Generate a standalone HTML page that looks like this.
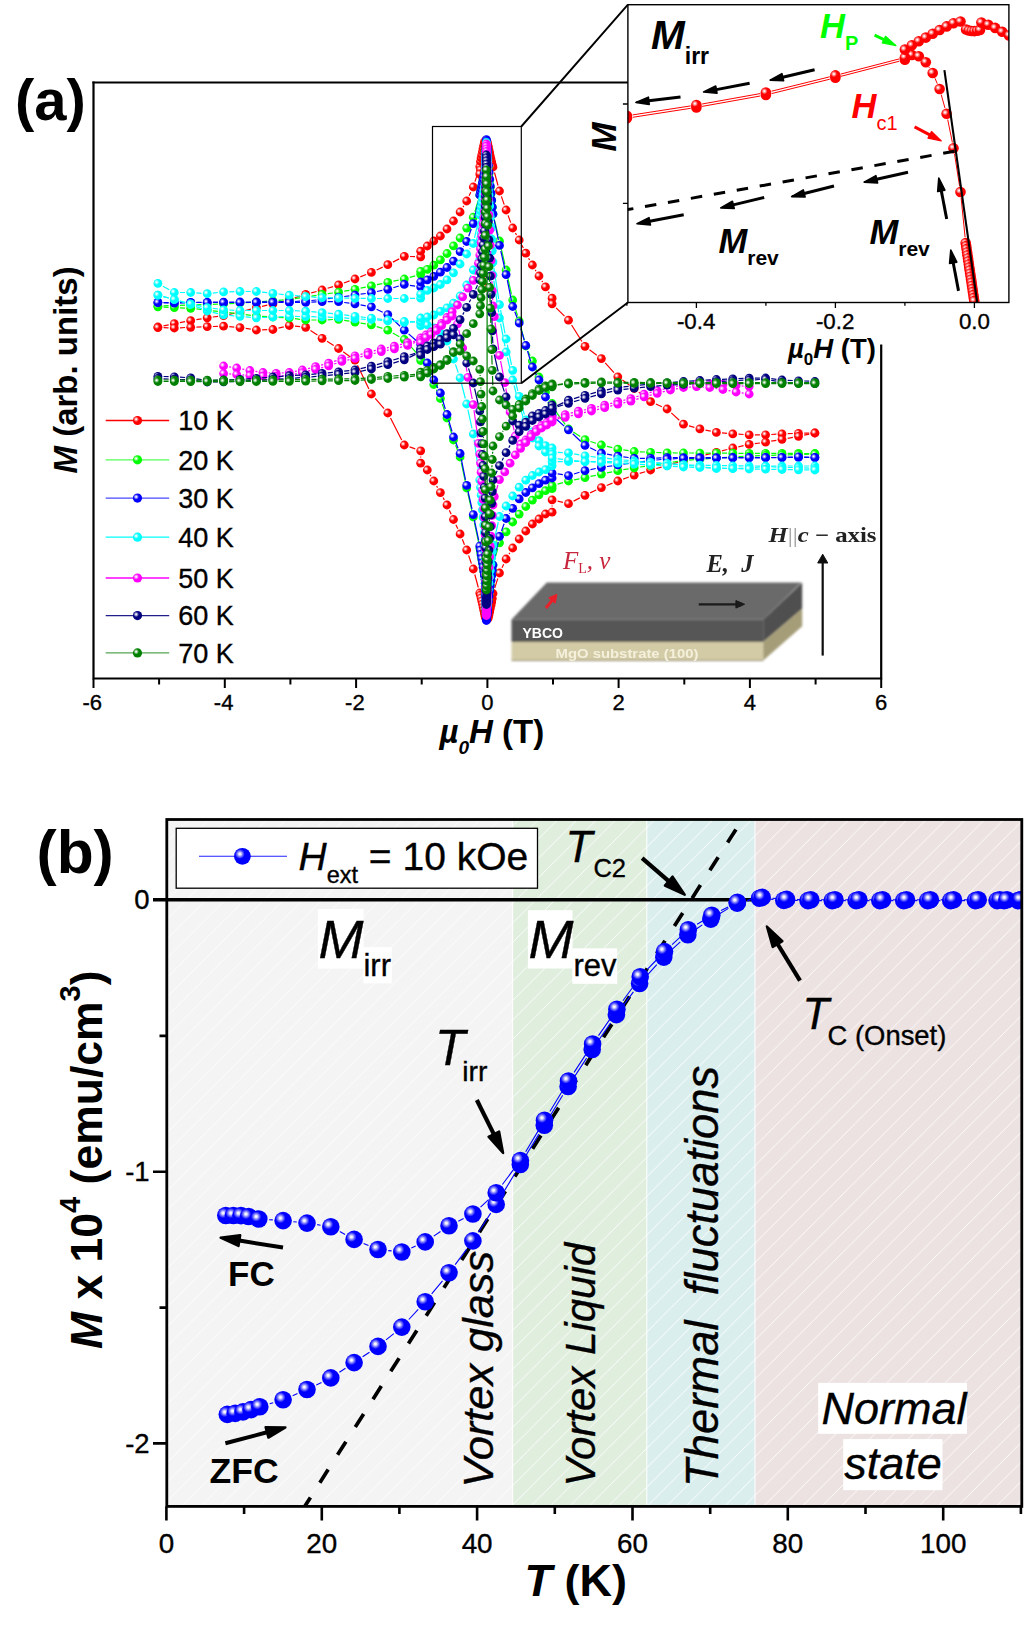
<!DOCTYPE html><html><head><meta charset="utf-8"><title>Magnetization of YBCO thin film</title><style>html,body{margin:0;padding:0;background:#fff}svg{display:block}text{font-family:"Liberation Sans",Arial,sans-serif}.r{stroke:#000;stroke-width:.35px}</style></head><body><svg width="1025" height="1629" viewBox="0 0 1025 1629"><defs><radialGradient id="g_red" cx="0.355" cy="0.365" r="0.3"><stop offset="0" stop-color="#fff"/><stop offset="0.18" stop-color="#ffeded"/><stop offset="0.55" stop-color="#ff7f7f"/><stop offset="1" stop-color="#ff0000"/></radialGradient><radialGradient id="g_green" cx="0.355" cy="0.365" r="0.3"><stop offset="0" stop-color="#fff"/><stop offset="0.18" stop-color="#edffed"/><stop offset="0.55" stop-color="#7fff7f"/><stop offset="1" stop-color="#00ff00"/></radialGradient><radialGradient id="g_blue" cx="0.355" cy="0.365" r="0.3"><stop offset="0" stop-color="#fff"/><stop offset="0.18" stop-color="#ededff"/><stop offset="0.55" stop-color="#7f7fff"/><stop offset="1" stop-color="#0000ff"/></radialGradient><radialGradient id="g_cyan" cx="0.355" cy="0.365" r="0.3"><stop offset="0" stop-color="#fff"/><stop offset="0.18" stop-color="#edffff"/><stop offset="0.55" stop-color="#7fffff"/><stop offset="1" stop-color="#00ffff"/></radialGradient><radialGradient id="g_magenta" cx="0.355" cy="0.365" r="0.3"><stop offset="0" stop-color="#fff"/><stop offset="0.18" stop-color="#ffedff"/><stop offset="0.55" stop-color="#ff7fff"/><stop offset="1" stop-color="#ff00ff"/></radialGradient><radialGradient id="g_navy" cx="0.355" cy="0.365" r="0.3"><stop offset="0" stop-color="#fff"/><stop offset="0.18" stop-color="#ededf6"/><stop offset="0.55" stop-color="#7f7fbf"/><stop offset="1" stop-color="#000080"/></radialGradient><radialGradient id="g_dkgreen" cx="0.355" cy="0.365" r="0.3"><stop offset="0" stop-color="#fff"/><stop offset="0.18" stop-color="#edf6ed"/><stop offset="0.55" stop-color="#7fbf7f"/><stop offset="1" stop-color="#008000"/></radialGradient><radialGradient id="gb_blue" cx="0.35" cy="0.36" r="0.29"><stop offset="0" stop-color="#fff"/><stop offset="0.2" stop-color="#f0f0ff"/><stop offset="0.6" stop-color="#7070ff"/><stop offset="1" stop-color="#0000ff"/></radialGradient><pattern id="h_gray" width="19.4" height="19.4" patternUnits="userSpaceOnUse"><rect width="19.4" height="19.4" fill="#f4f4f4"/><path d="M-1 20.4L20.4 -1M-1 1L1 -1M18.4 20.4L20.4 18.4" stroke="#fff" stroke-opacity="0.95" stroke-width="0.9"/></pattern><pattern id="h_green" width="19.4" height="19.4" patternUnits="userSpaceOnUse"><rect width="19.4" height="19.4" fill="#e0eede"/><path d="M-1 20.4L20.4 -1M-1 1L1 -1M18.4 20.4L20.4 18.4" stroke="#fff" stroke-opacity="0.95" stroke-width="0.9"/></pattern><pattern id="h_cyan" width="19.4" height="19.4" patternUnits="userSpaceOnUse"><rect width="19.4" height="19.4" fill="#dbeeee"/><path d="M-1 20.4L20.4 -1M-1 1L1 -1M18.4 20.4L20.4 18.4" stroke="#fff" stroke-opacity="0.95" stroke-width="0.9"/></pattern><pattern id="h_pink" width="19.4" height="19.4" patternUnits="userSpaceOnUse"><rect width="19.4" height="19.4" fill="#ece2e1"/><path d="M-1 20.4L20.4 -1M-1 1L1 -1M18.4 20.4L20.4 18.4" stroke="#fff" stroke-opacity="0.95" stroke-width="0.9"/></pattern><filter id="blur1" x="-5%" y="-5%" width="110%" height="110%"><feGaussianBlur stdDeviation="0.9"/></filter><filter id="blur2" x="-5%" y="-20%" width="110%" height="140%"><feGaussianBlur stdDeviation="0.7"/></filter></defs><rect width="1025" height="1629" fill="#fff"/><g id="panel-a"><path d="M163.5 325.9L168.7 324.8M179.9 322.7L185.1 321.7M196.4 319.7L201.6 318.8M212.8 317L218 316.4M229.2 314.4L234.5 313.2M245.5 310.5L250.9 309.1M262 306.3L267.3 305.2M278.4 302.4L283.8 301M294.7 297.8L300.3 296.1M311.2 292.9L316.6 291.5M327.6 288.3L333.1 286.6M343.9 283L349.6 280.9M360.3 276.9L366.1 274.5M376.6 270L382.7 267.1M392.9 262.1L399.2 258.9M410 256.5L415 256.6M463 207.1L463.8 205.9M469.1 195.8L470.8 192.2M475 181.6L478.1 171.9M494.5 172.5L498 185.5M501.4 196.4L504.2 204.6M508.1 215.4L510.7 222.6M515.4 233L516.5 235M521.8 245.1L523.3 248.1M528.6 258.2L529.6 260M535.3 269.9L536 271.1M541.9 280.9L542.6 282M548.4 291.8L549.2 293.3M556.1 307.8L564.5 316.2M571.6 325L581.9 341.5M589.5 349.7L596.8 355.2M605.2 362.8L614 372.6M622.4 380.1L629.6 385.2M638.7 392.1L646.2 398.1M655.9 404L661.9 406.7M671.3 412.9L679.3 420.3M689 425.8L694.4 427.3M705.5 430.1L710.8 431.2M722 432.9L727.1 433.4M738.5 434.2L743.5 434.5M754.9 434.8L759.9 434.8M771.3 434.5L776.4 434.2M787.7 433.7L792.8 433.5M804.2 433.2L809.2 433.1" stroke="#ff0000" stroke-width="1.2" fill="none"/><path d="M163.6 327.7L168.6 327.9M180 327.8L185.1 327.5M196.4 327.1L201.5 326.8M212.9 326.5L217.9 326.3M229.3 326.7L234.3 327.1M245.7 328.4L250.8 329.2M262.1 329.8L267.2 329.7M278.4 328.2L283.8 326.8M295 326.1L300.1 326.7M310.5 330.5L317.4 335.1M327 341.3L333.7 345.5M343.2 351.8L350.4 356.9M357.5 365.3L368.9 388.9M375.2 398.3L384.1 408.7M390.5 418.1L401.7 439.9M409.6 446.9L415.3 448.9M420.7 456.5L420.7 457.5M430.2 474.9L430.9 476.1M436.6 486L437.6 487.6M443.1 497.6L444.3 500M449.3 510.2L451.2 514.3M455.9 524.7L457.8 528.8M462.3 539.3L464.5 544.7M468.6 555.4L471.4 563.6M474.8 574.5L478.3 587.5M494.7 588.1L497.8 578.4M502 567.8L503.7 564.2M509 554.1L509.8 552.9M552.1 506.5L552.1 505.5M557.6 501.1L563 502.4M573.6 501.1L579.9 497.9M590.1 492.9L596.2 490M606.7 485.5L612.5 483.1M623.2 479.1L628.9 477M639.7 473.4L645.2 471.7M656.2 468.5L661.6 467.1M672.5 463.9L678.1 462.2M689 459L694.4 457.6M705.5 454.8L710.8 453.7M721.9 450.9L727.3 449.5M738.3 446.8L743.6 445.6M754.8 443.6L760 443M771.2 441.2L776.4 440.3M787.7 438.3L792.9 437.3M804.1 435.2L809.3 434.1" stroke="#ff0000" stroke-width="1.2" fill="none"/><path d="M485 281.7L484.5 255.7M484.3 244.3L483.9 226.2M483.6 214.8L483.3 204.8M482.8 193.4L482.7 191" stroke="#ff0000" stroke-width="1.2" fill="none"/><circle cx="157.9" cy="327" r="4.4" fill="url(#g_red)"/><circle cx="174.3" cy="323.7" r="4.4" fill="url(#g_red)"/><circle cx="190.7" cy="320.7" r="4.4" fill="url(#g_red)"/><circle cx="207.2" cy="317.8" r="4.4" fill="url(#g_red)"/><circle cx="223.6" cy="315.6" r="4.4" fill="url(#g_red)"/><circle cx="240" cy="312" r="4.4" fill="url(#g_red)"/><circle cx="256.4" cy="307.6" r="4.4" fill="url(#g_red)"/><circle cx="272.9" cy="303.9" r="4.4" fill="url(#g_red)"/><circle cx="289.3" cy="299.5" r="4.4" fill="url(#g_red)"/><circle cx="305.7" cy="294.4" r="4.4" fill="url(#g_red)"/><circle cx="322.1" cy="290" r="4.4" fill="url(#g_red)"/><circle cx="338.6" cy="284.9" r="4.4" fill="url(#g_red)"/><circle cx="355" cy="279" r="4.4" fill="url(#g_red)"/><circle cx="371.4" cy="272.4" r="4.4" fill="url(#g_red)"/><circle cx="387.8" cy="264.7" r="4.4" fill="url(#g_red)"/><circle cx="404.3" cy="256.3" r="4.4" fill="url(#g_red)"/><circle cx="420.7" cy="256.8" r="4.4" fill="url(#g_red)"/><circle cx="420.7" cy="251.2" r="4.4" fill="url(#g_red)"/><circle cx="427.3" cy="246" r="4.4" fill="url(#g_red)"/><circle cx="433.8" cy="241" r="4.4" fill="url(#g_red)"/><circle cx="440.4" cy="236" r="4.4" fill="url(#g_red)"/><circle cx="447" cy="229" r="4.4" fill="url(#g_red)"/><circle cx="453.5" cy="221" r="4.4" fill="url(#g_red)"/><circle cx="460.1" cy="212" r="4.4" fill="url(#g_red)"/><circle cx="466.7" cy="201" r="4.4" fill="url(#g_red)"/><circle cx="473.3" cy="187" r="4.4" fill="url(#g_red)"/><circle cx="479.8" cy="166.5" r="4.4" fill="url(#g_red)"/><circle cx="480.5" cy="161.5" r="4.4" fill="url(#g_red)"/><circle cx="481.1" cy="157.9" r="4.4" fill="url(#g_red)"/><circle cx="481.8" cy="154.8" r="4.4" fill="url(#g_red)"/><circle cx="482.5" cy="151.5" r="4.4" fill="url(#g_red)"/><circle cx="483.1" cy="148.3" r="4.4" fill="url(#g_red)"/><circle cx="483.8" cy="145.2" r="4.4" fill="url(#g_red)"/><circle cx="484.4" cy="142.4" r="4.4" fill="url(#g_red)"/><circle cx="485.1" cy="141" r="4.4" fill="url(#g_red)"/><circle cx="485.6" cy="147.8" r="4.4" fill="url(#g_red)"/><circle cx="485.9" cy="148.6" r="4.4" fill="url(#g_red)"/><circle cx="486.1" cy="149" r="4.4" fill="url(#g_red)"/><circle cx="486.4" cy="149.1" r="4.4" fill="url(#g_red)"/><circle cx="486.7" cy="148.9" r="4.4" fill="url(#g_red)"/><circle cx="486.9" cy="148.2" r="4.4" fill="url(#g_red)"/><circle cx="487.1" cy="141.8" r="4.4" fill="url(#g_red)"/><circle cx="487.7" cy="143.7" r="4.4" fill="url(#g_red)"/><circle cx="488.4" cy="146.5" r="4.4" fill="url(#g_red)"/><circle cx="489" cy="149.8" r="4.4" fill="url(#g_red)"/><circle cx="489.7" cy="152.9" r="4.4" fill="url(#g_red)"/><circle cx="490.3" cy="156" r="4.4" fill="url(#g_red)"/><circle cx="491" cy="159" r="4.4" fill="url(#g_red)"/><circle cx="491.7" cy="162" r="4.4" fill="url(#g_red)"/><circle cx="492.3" cy="164.8" r="4.4" fill="url(#g_red)"/><circle cx="493" cy="167" r="4.4" fill="url(#g_red)"/><circle cx="499.5" cy="191" r="4.4" fill="url(#g_red)"/><circle cx="506.1" cy="210" r="4.4" fill="url(#g_red)"/><circle cx="512.7" cy="228" r="4.4" fill="url(#g_red)"/><circle cx="519.2" cy="240" r="4.4" fill="url(#g_red)"/><circle cx="525.8" cy="253.2" r="4.4" fill="url(#g_red)"/><circle cx="532.4" cy="265" r="4.4" fill="url(#g_red)"/><circle cx="539" cy="276" r="4.4" fill="url(#g_red)"/><circle cx="545.5" cy="286.9" r="4.4" fill="url(#g_red)"/><circle cx="552.1" cy="298.2" r="4.4" fill="url(#g_red)"/><circle cx="552.1" cy="303.8" r="4.4" fill="url(#g_red)"/><circle cx="568.5" cy="320.2" r="4.4" fill="url(#g_red)"/><circle cx="585" cy="346.3" r="4.4" fill="url(#g_red)"/><circle cx="601.4" cy="358.6" r="4.4" fill="url(#g_red)"/><circle cx="617.8" cy="376.8" r="4.4" fill="url(#g_red)"/><circle cx="634.2" cy="388.5" r="4.4" fill="url(#g_red)"/><circle cx="650.6" cy="401.7" r="4.4" fill="url(#g_red)"/><circle cx="667.1" cy="409" r="4.4" fill="url(#g_red)"/><circle cx="683.5" cy="424.2" r="4.4" fill="url(#g_red)"/><circle cx="699.9" cy="428.9" r="4.4" fill="url(#g_red)"/><circle cx="716.4" cy="432.4" r="4.4" fill="url(#g_red)"/><circle cx="732.8" cy="433.9" r="4.4" fill="url(#g_red)"/><circle cx="749.2" cy="434.8" r="4.4" fill="url(#g_red)"/><circle cx="765.6" cy="434.8" r="4.4" fill="url(#g_red)"/><circle cx="782" cy="433.9" r="4.4" fill="url(#g_red)"/><circle cx="798.5" cy="433.3" r="4.4" fill="url(#g_red)"/><circle cx="814.9" cy="433" r="4.4" fill="url(#g_red)"/><circle cx="157.9" cy="327.6" r="4.4" fill="url(#g_red)"/><circle cx="174.3" cy="328" r="4.4" fill="url(#g_red)"/><circle cx="190.7" cy="327.3" r="4.4" fill="url(#g_red)"/><circle cx="207.2" cy="326.6" r="4.4" fill="url(#g_red)"/><circle cx="223.6" cy="326.2" r="4.4" fill="url(#g_red)"/><circle cx="240" cy="327.6" r="4.4" fill="url(#g_red)"/><circle cx="256.4" cy="330" r="4.4" fill="url(#g_red)"/><circle cx="272.9" cy="329.5" r="4.4" fill="url(#g_red)"/><circle cx="289.3" cy="325.5" r="4.4" fill="url(#g_red)"/><circle cx="305.7" cy="327.3" r="4.4" fill="url(#g_red)"/><circle cx="322.1" cy="338.3" r="4.4" fill="url(#g_red)"/><circle cx="338.6" cy="348.5" r="4.4" fill="url(#g_red)"/><circle cx="355" cy="360.2" r="4.4" fill="url(#g_red)"/><circle cx="371.4" cy="394" r="4.4" fill="url(#g_red)"/><circle cx="387.8" cy="413" r="4.4" fill="url(#g_red)"/><circle cx="404.3" cy="445" r="4.4" fill="url(#g_red)"/><circle cx="420.7" cy="450.8" r="4.4" fill="url(#g_red)"/><circle cx="420.7" cy="463.2" r="4.4" fill="url(#g_red)"/><circle cx="427.3" cy="470" r="4.4" fill="url(#g_red)"/><circle cx="433.8" cy="481" r="4.4" fill="url(#g_red)"/><circle cx="440.4" cy="492.6" r="4.4" fill="url(#g_red)"/><circle cx="447" cy="505" r="4.4" fill="url(#g_red)"/><circle cx="453.5" cy="519.5" r="4.4" fill="url(#g_red)"/><circle cx="460.1" cy="534" r="4.4" fill="url(#g_red)"/><circle cx="466.7" cy="550" r="4.4" fill="url(#g_red)"/><circle cx="473.3" cy="569" r="4.4" fill="url(#g_red)"/><circle cx="479.8" cy="593" r="4.4" fill="url(#g_red)"/><circle cx="480.5" cy="595.2" r="4.4" fill="url(#g_red)"/><circle cx="481.1" cy="598" r="4.4" fill="url(#g_red)"/><circle cx="481.8" cy="601" r="4.4" fill="url(#g_red)"/><circle cx="482.5" cy="604" r="4.4" fill="url(#g_red)"/><circle cx="483.1" cy="607.1" r="4.4" fill="url(#g_red)"/><circle cx="483.8" cy="610.2" r="4.4" fill="url(#g_red)"/><circle cx="484.4" cy="613.5" r="4.4" fill="url(#g_red)"/><circle cx="485.1" cy="616.3" r="4.4" fill="url(#g_red)"/><circle cx="485.7" cy="618.2" r="4.4" fill="url(#g_red)"/><circle cx="485.9" cy="611.8" r="4.4" fill="url(#g_red)"/><circle cx="486.1" cy="611.1" r="4.4" fill="url(#g_red)"/><circle cx="486.4" cy="610.9" r="4.4" fill="url(#g_red)"/><circle cx="486.7" cy="611" r="4.4" fill="url(#g_red)"/><circle cx="486.9" cy="611.4" r="4.4" fill="url(#g_red)"/><circle cx="487.2" cy="612.2" r="4.4" fill="url(#g_red)"/><circle cx="487.7" cy="619" r="4.4" fill="url(#g_red)"/><circle cx="488.4" cy="617.6" r="4.4" fill="url(#g_red)"/><circle cx="489" cy="614.8" r="4.4" fill="url(#g_red)"/><circle cx="489.7" cy="611.7" r="4.4" fill="url(#g_red)"/><circle cx="490.3" cy="608.5" r="4.4" fill="url(#g_red)"/><circle cx="491" cy="605.2" r="4.4" fill="url(#g_red)"/><circle cx="491.7" cy="602.1" r="4.4" fill="url(#g_red)"/><circle cx="492.3" cy="598.5" r="4.4" fill="url(#g_red)"/><circle cx="493" cy="593.5" r="4.4" fill="url(#g_red)"/><circle cx="499.5" cy="573" r="4.4" fill="url(#g_red)"/><circle cx="506.1" cy="559" r="4.4" fill="url(#g_red)"/><circle cx="512.7" cy="548" r="4.4" fill="url(#g_red)"/><circle cx="519.2" cy="539" r="4.4" fill="url(#g_red)"/><circle cx="525.8" cy="531" r="4.4" fill="url(#g_red)"/><circle cx="532.4" cy="524" r="4.4" fill="url(#g_red)"/><circle cx="539" cy="519" r="4.4" fill="url(#g_red)"/><circle cx="545.5" cy="514" r="4.4" fill="url(#g_red)"/><circle cx="552.1" cy="512.2" r="4.4" fill="url(#g_red)"/><circle cx="552.1" cy="499.8" r="4.4" fill="url(#g_red)"/><circle cx="568.5" cy="503.7" r="4.4" fill="url(#g_red)"/><circle cx="585" cy="495.3" r="4.4" fill="url(#g_red)"/><circle cx="601.4" cy="487.6" r="4.4" fill="url(#g_red)"/><circle cx="617.8" cy="481" r="4.4" fill="url(#g_red)"/><circle cx="634.2" cy="475.1" r="4.4" fill="url(#g_red)"/><circle cx="650.6" cy="470" r="4.4" fill="url(#g_red)"/><circle cx="667.1" cy="465.6" r="4.4" fill="url(#g_red)"/><circle cx="683.5" cy="460.5" r="4.4" fill="url(#g_red)"/><circle cx="699.9" cy="456.1" r="4.4" fill="url(#g_red)"/><circle cx="716.4" cy="452.4" r="4.4" fill="url(#g_red)"/><circle cx="732.8" cy="448" r="4.4" fill="url(#g_red)"/><circle cx="749.2" cy="444.4" r="4.4" fill="url(#g_red)"/><circle cx="765.6" cy="442.2" r="4.4" fill="url(#g_red)"/><circle cx="782" cy="439.3" r="4.4" fill="url(#g_red)"/><circle cx="798.5" cy="436.3" r="4.4" fill="url(#g_red)"/><circle cx="814.9" cy="433" r="4.4" fill="url(#g_red)"/><circle cx="485.1" cy="287.4" r="4.4" fill="url(#g_red)"/><circle cx="484.4" cy="250" r="4.4" fill="url(#g_red)"/><circle cx="483.8" cy="220.5" r="4.4" fill="url(#g_red)"/><circle cx="483.1" cy="199.1" r="4.4" fill="url(#g_red)"/><circle cx="482.5" cy="185.3" r="4.4" fill="url(#g_red)"/><circle cx="481.8" cy="176" r="4.4" fill="url(#g_red)"/><circle cx="481.1" cy="170.9" r="4.4" fill="url(#g_red)"/><circle cx="480.5" cy="169.8" r="4.4" fill="url(#g_red)"/><circle cx="479.8" cy="173.9" r="4.4" fill="url(#g_red)"/><path d="M163.6 305.8L168.6 305.7M180 305.3L185.1 305.2M196.4 304.8L201.5 304.7M212.9 304.3L217.9 304.2M229.3 303.7L234.3 303.3M245.7 302.7L250.8 302.3M262.1 301.6L267.2 301.2M278.6 300.3L283.6 299.9M294.9 298.6L300.1 297.9M311.4 296.1L316.5 295.3M327.8 293.6L332.9 293M344.2 291.2L349.4 290.3M360.6 288.1L365.8 287.1M377 284.7L382.3 283.6M393.4 281.2L398.7 280.2M409.8 277.4L415.2 275.9M469.6 223.2L470.3 222.1M474.9 211.7L478.2 200.5M494.3 219.5L498.2 235.5M500.8 246.6L504.9 264.4M507.3 275.6L511.5 294.4M514.4 305.4L517.5 315.6M520.7 326.5L524.4 340.5M528.1 351.2L530.1 355.8M534.6 366.3L536.8 371.7M541.2 382.2L543.2 386.8M548.4 396.9L549.3 398.6M555.5 411.1L565.2 424.4M573.3 432.1L580.2 436.6M590.4 441.5L596 443.2M606.9 446.4L612.3 447.7M623.4 449.9L628.6 450.7M639.9 451.8L645 452M656.3 452.5L661.4 452.7M672.8 452.9L677.8 453M689.2 453L694.2 453M705.6 453.1L710.7 453.1M722 453.2L727.1 453.2M738.5 453.3L743.5 453.3M754.9 453.3L759.9 453.3M771.3 453.4L776.4 453.4M787.7 453.4L792.8 453.4M804.2 453.5L809.2 453.5" stroke="#00ff00" stroke-width="1.2" fill="none"/><path d="M163.6 307.1L168.6 307.3M180 307.8L185.1 308.1M196.4 308.9L201.5 309.5M212.8 310.8L217.9 311.4M229.3 312.7L234.4 313.3M245.7 314.7L250.8 315.3M262.1 316.3L267.2 316.7M278.6 317.3L283.6 317.7M295 318.7L300.1 319.3M311.4 320L316.4 320M327.8 319.8L332.9 319.5M344.2 320.3L349.4 321.2M360.6 323.1L365.8 323.9M376.8 326.6L382.4 328.4M392.8 333L399.3 336.7M408.1 343.7L416.9 353.3M423.7 365.3L424.2 366.2M429.8 376.1L431.3 379.4M436.3 389.7L438 393.3M442.2 403.9L445.2 412.6M448.6 423.5L451.9 434.5M455.6 445.3L458.1 451.7M461.3 462.6L465.5 482.4M467.9 493.6L472 511.4M474.4 522.6L478.6 542.4M494.6 559.5L497.9 548.3M502.5 537.9L503.2 536.8M557.6 484.1L563 482.6M574.1 479.8L579.4 478.8M590.5 476.4L595.8 475.3M607 472.9L612.2 471.9M623.4 469.7L628.6 468.8M639.9 467L645 466.4M656.3 464.7L661.4 463.9M672.7 462.1L677.9 461.4M689.2 460.1L694.2 459.7M705.6 458.8L710.7 458.4M722 457.7L727.1 457.3M738.5 456.7L743.5 456.3M754.9 455.8L759.9 455.7M771.3 455.3L776.4 455.2M787.7 454.8L792.8 454.7M804.2 454.3L809.2 454.2" stroke="#00ff00" stroke-width="1.2" fill="none"/><circle cx="157.9" cy="306" r="4.4" fill="url(#g_green)"/><circle cx="174.3" cy="305.5" r="4.4" fill="url(#g_green)"/><circle cx="190.7" cy="305" r="4.4" fill="url(#g_green)"/><circle cx="207.2" cy="304.5" r="4.4" fill="url(#g_green)"/><circle cx="223.6" cy="304" r="4.4" fill="url(#g_green)"/><circle cx="240" cy="303" r="4.4" fill="url(#g_green)"/><circle cx="256.4" cy="302" r="4.4" fill="url(#g_green)"/><circle cx="272.9" cy="300.8" r="4.4" fill="url(#g_green)"/><circle cx="289.3" cy="299.5" r="4.4" fill="url(#g_green)"/><circle cx="305.7" cy="297" r="4.4" fill="url(#g_green)"/><circle cx="322.1" cy="294.4" r="4.4" fill="url(#g_green)"/><circle cx="338.6" cy="292.2" r="4.4" fill="url(#g_green)"/><circle cx="355" cy="289.3" r="4.4" fill="url(#g_green)"/><circle cx="371.4" cy="285.9" r="4.4" fill="url(#g_green)"/><circle cx="387.8" cy="282.4" r="4.4" fill="url(#g_green)"/><circle cx="404.3" cy="279" r="4.4" fill="url(#g_green)"/><circle cx="420.7" cy="274.3" r="4.4" fill="url(#g_green)"/><circle cx="420.7" cy="271.3" r="4.4" fill="url(#g_green)"/><circle cx="427.3" cy="269.3" r="4.4" fill="url(#g_green)"/><circle cx="433.8" cy="265.2" r="4.4" fill="url(#g_green)"/><circle cx="440.4" cy="259.9" r="4.4" fill="url(#g_green)"/><circle cx="447" cy="253.5" r="4.4" fill="url(#g_green)"/><circle cx="453.5" cy="245.9" r="4.4" fill="url(#g_green)"/><circle cx="460.1" cy="238" r="4.4" fill="url(#g_green)"/><circle cx="466.7" cy="228.1" r="4.4" fill="url(#g_green)"/><circle cx="473.3" cy="217.2" r="4.4" fill="url(#g_green)"/><circle cx="479.8" cy="195" r="4.4" fill="url(#g_green)"/><circle cx="480.5" cy="192" r="4.4" fill="url(#g_green)"/><circle cx="481.1" cy="189.1" r="4.4" fill="url(#g_green)"/><circle cx="481.8" cy="186.1" r="4.4" fill="url(#g_green)"/><circle cx="482.5" cy="183.2" r="4.4" fill="url(#g_green)"/><circle cx="483.1" cy="180.2" r="4.4" fill="url(#g_green)"/><circle cx="483.8" cy="177.3" r="4.4" fill="url(#g_green)"/><circle cx="484.4" cy="174.3" r="4.4" fill="url(#g_green)"/><circle cx="485.1" cy="171.4" r="4.4" fill="url(#g_green)"/><circle cx="485.2" cy="168.7" r="4.4" fill="url(#g_green)"/><circle cx="485.3" cy="166.4" r="4.4" fill="url(#g_green)"/><circle cx="485.4" cy="164.2" r="4.4" fill="url(#g_green)"/><circle cx="485.5" cy="162" r="4.4" fill="url(#g_green)"/><circle cx="485.6" cy="159.9" r="4.4" fill="url(#g_green)"/><circle cx="485.6" cy="157.9" r="4.4" fill="url(#g_green)"/><circle cx="485.7" cy="155.9" r="4.4" fill="url(#g_green)"/><circle cx="485.8" cy="153.9" r="4.4" fill="url(#g_green)"/><circle cx="485.9" cy="152" r="4.4" fill="url(#g_green)"/><circle cx="486" cy="150" r="4.4" fill="url(#g_green)"/><circle cx="486.1" cy="148.1" r="4.4" fill="url(#g_green)"/><circle cx="486.2" cy="146.2" r="4.4" fill="url(#g_green)"/><circle cx="486.3" cy="144.4" r="4.4" fill="url(#g_green)"/><circle cx="486.4" cy="142.5" r="4.4" fill="url(#g_green)"/><circle cx="486.5" cy="143.5" r="4.4" fill="url(#g_green)"/><circle cx="486.6" cy="144.6" r="4.4" fill="url(#g_green)"/><circle cx="486.7" cy="145.8" r="4.4" fill="url(#g_green)"/><circle cx="486.8" cy="147" r="4.4" fill="url(#g_green)"/><circle cx="486.9" cy="148.3" r="4.4" fill="url(#g_green)"/><circle cx="487" cy="149.5" r="4.4" fill="url(#g_green)"/><circle cx="487.1" cy="150.8" r="4.4" fill="url(#g_green)"/><circle cx="487.2" cy="152.2" r="4.4" fill="url(#g_green)"/><circle cx="487.2" cy="153.5" r="4.4" fill="url(#g_green)"/><circle cx="487.3" cy="154.8" r="4.4" fill="url(#g_green)"/><circle cx="487.4" cy="156.2" r="4.4" fill="url(#g_green)"/><circle cx="487.5" cy="157.6" r="4.4" fill="url(#g_green)"/><circle cx="487.6" cy="159" r="4.4" fill="url(#g_green)"/><circle cx="487.7" cy="160.4" r="4.4" fill="url(#g_green)"/><circle cx="488.4" cy="167.1" r="4.4" fill="url(#g_green)"/><circle cx="489" cy="173.8" r="4.4" fill="url(#g_green)"/><circle cx="489.7" cy="180.5" r="4.4" fill="url(#g_green)"/><circle cx="490.3" cy="187.2" r="4.4" fill="url(#g_green)"/><circle cx="491" cy="193.9" r="4.4" fill="url(#g_green)"/><circle cx="491.7" cy="200.6" r="4.4" fill="url(#g_green)"/><circle cx="492.3" cy="207.3" r="4.4" fill="url(#g_green)"/><circle cx="493" cy="214" r="4.4" fill="url(#g_green)"/><circle cx="499.5" cy="241" r="4.4" fill="url(#g_green)"/><circle cx="506.1" cy="270" r="4.4" fill="url(#g_green)"/><circle cx="512.7" cy="300" r="4.4" fill="url(#g_green)"/><circle cx="519.2" cy="321" r="4.4" fill="url(#g_green)"/><circle cx="525.8" cy="346" r="4.4" fill="url(#g_green)"/><circle cx="532.4" cy="361" r="4.4" fill="url(#g_green)"/><circle cx="539" cy="377" r="4.4" fill="url(#g_green)"/><circle cx="545.5" cy="392" r="4.4" fill="url(#g_green)"/><circle cx="552.1" cy="403.5" r="4.4" fill="url(#g_green)"/><circle cx="552.1" cy="406.5" r="4.4" fill="url(#g_green)"/><circle cx="568.5" cy="429" r="4.4" fill="url(#g_green)"/><circle cx="585" cy="439.7" r="4.4" fill="url(#g_green)"/><circle cx="601.4" cy="445" r="4.4" fill="url(#g_green)"/><circle cx="617.8" cy="449.1" r="4.4" fill="url(#g_green)"/><circle cx="634.2" cy="451.5" r="4.4" fill="url(#g_green)"/><circle cx="650.6" cy="452.3" r="4.4" fill="url(#g_green)"/><circle cx="667.1" cy="452.9" r="4.4" fill="url(#g_green)"/><circle cx="683.5" cy="453" r="4.4" fill="url(#g_green)"/><circle cx="699.9" cy="453.1" r="4.4" fill="url(#g_green)"/><circle cx="716.4" cy="453.1" r="4.4" fill="url(#g_green)"/><circle cx="732.8" cy="453.2" r="4.4" fill="url(#g_green)"/><circle cx="749.2" cy="453.3" r="4.4" fill="url(#g_green)"/><circle cx="765.6" cy="453.4" r="4.4" fill="url(#g_green)"/><circle cx="782" cy="453.4" r="4.4" fill="url(#g_green)"/><circle cx="798.5" cy="453.4" r="4.4" fill="url(#g_green)"/><circle cx="814.9" cy="453.5" r="4.4" fill="url(#g_green)"/><circle cx="157.9" cy="306.8" r="4.4" fill="url(#g_green)"/><circle cx="174.3" cy="307.6" r="4.4" fill="url(#g_green)"/><circle cx="190.7" cy="308.3" r="4.4" fill="url(#g_green)"/><circle cx="207.2" cy="310.1" r="4.4" fill="url(#g_green)"/><circle cx="223.6" cy="312" r="4.4" fill="url(#g_green)"/><circle cx="240" cy="314" r="4.4" fill="url(#g_green)"/><circle cx="256.4" cy="316" r="4.4" fill="url(#g_green)"/><circle cx="272.9" cy="317" r="4.4" fill="url(#g_green)"/><circle cx="289.3" cy="318" r="4.4" fill="url(#g_green)"/><circle cx="305.7" cy="320" r="4.4" fill="url(#g_green)"/><circle cx="322.1" cy="320" r="4.4" fill="url(#g_green)"/><circle cx="338.6" cy="319.3" r="4.4" fill="url(#g_green)"/><circle cx="355" cy="322.2" r="4.4" fill="url(#g_green)"/><circle cx="371.4" cy="324.8" r="4.4" fill="url(#g_green)"/><circle cx="387.8" cy="330.2" r="4.4" fill="url(#g_green)"/><circle cx="404.3" cy="339.5" r="4.4" fill="url(#g_green)"/><circle cx="420.7" cy="357.5" r="4.4" fill="url(#g_green)"/><circle cx="420.7" cy="360.5" r="4.4" fill="url(#g_green)"/><circle cx="427.3" cy="371" r="4.4" fill="url(#g_green)"/><circle cx="433.8" cy="384.5" r="4.4" fill="url(#g_green)"/><circle cx="440.4" cy="398.5" r="4.4" fill="url(#g_green)"/><circle cx="447" cy="418" r="4.4" fill="url(#g_green)"/><circle cx="453.5" cy="440" r="4.4" fill="url(#g_green)"/><circle cx="460.1" cy="457" r="4.4" fill="url(#g_green)"/><circle cx="466.7" cy="488" r="4.4" fill="url(#g_green)"/><circle cx="473.3" cy="517" r="4.4" fill="url(#g_green)"/><circle cx="479.8" cy="548" r="4.4" fill="url(#g_green)"/><circle cx="480.5" cy="551.9" r="4.4" fill="url(#g_green)"/><circle cx="481.1" cy="555.8" r="4.4" fill="url(#g_green)"/><circle cx="481.8" cy="559.7" r="4.4" fill="url(#g_green)"/><circle cx="482.5" cy="563.6" r="4.4" fill="url(#g_green)"/><circle cx="483.1" cy="567.5" r="4.4" fill="url(#g_green)"/><circle cx="483.8" cy="571.5" r="4.4" fill="url(#g_green)"/><circle cx="484.4" cy="575.4" r="4.4" fill="url(#g_green)"/><circle cx="485.1" cy="579.3" r="4.4" fill="url(#g_green)"/><circle cx="485.2" cy="582.8" r="4.4" fill="url(#g_green)"/><circle cx="485.3" cy="585.9" r="4.4" fill="url(#g_green)"/><circle cx="485.4" cy="588.8" r="4.4" fill="url(#g_green)"/><circle cx="485.5" cy="591.7" r="4.4" fill="url(#g_green)"/><circle cx="485.6" cy="594.4" r="4.4" fill="url(#g_green)"/><circle cx="485.6" cy="597.1" r="4.4" fill="url(#g_green)"/><circle cx="485.7" cy="599.8" r="4.4" fill="url(#g_green)"/><circle cx="485.8" cy="602.4" r="4.4" fill="url(#g_green)"/><circle cx="485.9" cy="605" r="4.4" fill="url(#g_green)"/><circle cx="486" cy="607.5" r="4.4" fill="url(#g_green)"/><circle cx="486.1" cy="610" r="4.4" fill="url(#g_green)"/><circle cx="486.2" cy="612.5" r="4.4" fill="url(#g_green)"/><circle cx="486.3" cy="615" r="4.4" fill="url(#g_green)"/><circle cx="486.4" cy="617.5" r="4.4" fill="url(#g_green)"/><circle cx="486.5" cy="616.8" r="4.4" fill="url(#g_green)"/><circle cx="486.6" cy="616" r="4.4" fill="url(#g_green)"/><circle cx="486.7" cy="615.1" r="4.4" fill="url(#g_green)"/><circle cx="486.8" cy="614.2" r="4.4" fill="url(#g_green)"/><circle cx="486.9" cy="613.3" r="4.4" fill="url(#g_green)"/><circle cx="487" cy="612.3" r="4.4" fill="url(#g_green)"/><circle cx="487.1" cy="611.4" r="4.4" fill="url(#g_green)"/><circle cx="487.2" cy="610.4" r="4.4" fill="url(#g_green)"/><circle cx="487.2" cy="609.4" r="4.4" fill="url(#g_green)"/><circle cx="487.3" cy="608.4" r="4.4" fill="url(#g_green)"/><circle cx="487.4" cy="607.4" r="4.4" fill="url(#g_green)"/><circle cx="487.5" cy="606.4" r="4.4" fill="url(#g_green)"/><circle cx="487.6" cy="605.4" r="4.4" fill="url(#g_green)"/><circle cx="487.7" cy="604.4" r="4.4" fill="url(#g_green)"/><circle cx="488.4" cy="599.5" r="4.4" fill="url(#g_green)"/><circle cx="489" cy="594.5" r="4.4" fill="url(#g_green)"/><circle cx="489.7" cy="589.6" r="4.4" fill="url(#g_green)"/><circle cx="490.3" cy="584.7" r="4.4" fill="url(#g_green)"/><circle cx="491" cy="579.8" r="4.4" fill="url(#g_green)"/><circle cx="491.7" cy="574.8" r="4.4" fill="url(#g_green)"/><circle cx="492.3" cy="569.9" r="4.4" fill="url(#g_green)"/><circle cx="493" cy="565" r="4.4" fill="url(#g_green)"/><circle cx="499.5" cy="542.8" r="4.4" fill="url(#g_green)"/><circle cx="506.1" cy="531.9" r="4.4" fill="url(#g_green)"/><circle cx="512.7" cy="522" r="4.4" fill="url(#g_green)"/><circle cx="519.2" cy="514.1" r="4.4" fill="url(#g_green)"/><circle cx="525.8" cy="506.5" r="4.4" fill="url(#g_green)"/><circle cx="532.4" cy="500.1" r="4.4" fill="url(#g_green)"/><circle cx="539" cy="494.8" r="4.4" fill="url(#g_green)"/><circle cx="545.5" cy="490.7" r="4.4" fill="url(#g_green)"/><circle cx="552.1" cy="488.7" r="4.4" fill="url(#g_green)"/><circle cx="552.1" cy="485.7" r="4.4" fill="url(#g_green)"/><circle cx="568.5" cy="481" r="4.4" fill="url(#g_green)"/><circle cx="585" cy="477.6" r="4.4" fill="url(#g_green)"/><circle cx="601.4" cy="474.1" r="4.4" fill="url(#g_green)"/><circle cx="617.8" cy="470.7" r="4.4" fill="url(#g_green)"/><circle cx="634.2" cy="467.8" r="4.4" fill="url(#g_green)"/><circle cx="650.6" cy="465.6" r="4.4" fill="url(#g_green)"/><circle cx="667.1" cy="463" r="4.4" fill="url(#g_green)"/><circle cx="683.5" cy="460.5" r="4.4" fill="url(#g_green)"/><circle cx="699.9" cy="459.2" r="4.4" fill="url(#g_green)"/><circle cx="716.4" cy="458" r="4.4" fill="url(#g_green)"/><circle cx="732.8" cy="457" r="4.4" fill="url(#g_green)"/><circle cx="749.2" cy="456" r="4.4" fill="url(#g_green)"/><circle cx="765.6" cy="455.5" r="4.4" fill="url(#g_green)"/><circle cx="782" cy="455" r="4.4" fill="url(#g_green)"/><circle cx="798.5" cy="454.5" r="4.4" fill="url(#g_green)"/><circle cx="814.9" cy="454" r="4.4" fill="url(#g_green)"/><path d="M163.6 302.7L168.6 302.9M180 302.9L185.1 302.7M196.4 302.4L201.5 302.3M212.9 302.2L217.9 302.2M229.3 302.1L234.3 302.1M245.7 302L250.8 302M262.1 301.9L267.2 301.9M278.6 301.8L283.6 301.7M295 301.5L300 301.2M311.4 300.5L316.5 300M327.8 298.7L332.9 298.1M344.2 296.5L349.4 295.9M360.6 294.2L365.8 293.5M377 291.5L382.3 290.4M393.3 287.7L398.8 286M409.9 285.3L415.1 286.1M463.2 246.9L463.6 246.3M468.7 236.2L471.3 229M474.5 218.1L478.6 200.6M494.1 219.6L498.4 239.8M500.8 251L504.9 269M507.3 280.2L511.5 300.9M514.8 311.8L517.1 317.7M520.8 328.5L524.2 340M527.5 351L530.7 361.5M535 372.1L536.4 374.9M541 385.3L543.5 391.7M548 402.1L549.6 405.4M556.4 419.2L564.2 426.1M572.7 433.7L580.8 441.5M590.1 447.8L596.2 450.8M607 454.2L612.2 455.1M623.4 456.9L628.6 457.5M639.9 458.3L644.9 458.3M656.3 458.1L661.4 457.8M672.8 457.6L677.8 457.6M689.2 457.6L694.2 457.6M705.6 457.6L710.7 457.6M722 457.5L727.1 457.5M738.5 457.5L743.5 457.5M754.9 457.5L759.9 457.5M771.3 457.5L776.4 457.5M787.7 457.4L792.8 457.4M804.2 457.4L809.2 457.4" stroke="#0000ff" stroke-width="1.2" fill="none"/><path d="M163.6 302.6L168.6 302.6M180 302.6L185.1 302.6M196.4 302.5L201.5 302.5M212.9 302.5L217.9 302.5M229.3 302.5L234.3 302.5M245.7 302.5L250.8 302.5M262.1 302.4L267.2 302.4M278.6 302.4L283.6 302.4M295 302.4L300 302.4M311.4 302.2L316.5 301.9M327.8 301.7L332.9 301.7M344.2 302.5L349.4 303.1M360.6 304.9L365.8 305.8M376.6 309.2L382.7 312.2M392 318.5L400.1 326.3M408.6 333.9L416.4 340.8M423.2 354.6L424.8 357.9M429.3 368.3L431.8 374.7M436.4 385.1L437.8 387.9M442.1 398.5L445.3 409M448.6 420L452 431.5M455.7 442.3L458 448.2M461.3 459.1L465.5 479.8M467.9 491L472 509M474.4 520.2L478.7 540.4M494.2 559.4L498.3 541.9M501.5 531L504.1 523.8M509.2 513.7L509.6 513.1M557.7 473.9L562.9 474.7M574 474L579.5 472.3M590.5 469.6L595.8 468.5M607 466.5L612.2 465.8M623.4 464.1L628.6 463.5M639.9 461.9L645 461.3M656.3 460L661.4 459.5M672.8 458.8L677.8 458.5M689.2 458.3L694.2 458.2M705.6 458.1L710.7 458.1M722 458L727.1 458M738.5 457.9L743.5 457.9M754.9 457.8L759.9 457.8M771.3 457.7L776.4 457.6M787.7 457.3L792.8 457.1M804.2 457.1L809.2 457.3" stroke="#0000ff" stroke-width="1.2" fill="none"/><circle cx="157.9" cy="302.4" r="4.4" fill="url(#g_blue)"/><circle cx="174.3" cy="303.2" r="4.4" fill="url(#g_blue)"/><circle cx="190.7" cy="302.4" r="4.4" fill="url(#g_blue)"/><circle cx="207.2" cy="302.3" r="4.4" fill="url(#g_blue)"/><circle cx="223.6" cy="302.2" r="4.4" fill="url(#g_blue)"/><circle cx="240" cy="302" r="4.4" fill="url(#g_blue)"/><circle cx="256.4" cy="301.9" r="4.4" fill="url(#g_blue)"/><circle cx="272.9" cy="301.8" r="4.4" fill="url(#g_blue)"/><circle cx="289.3" cy="301.7" r="4.4" fill="url(#g_blue)"/><circle cx="305.7" cy="301" r="4.4" fill="url(#g_blue)"/><circle cx="322.1" cy="299.5" r="4.4" fill="url(#g_blue)"/><circle cx="338.6" cy="297.3" r="4.4" fill="url(#g_blue)"/><circle cx="355" cy="295.1" r="4.4" fill="url(#g_blue)"/><circle cx="371.4" cy="292.6" r="4.4" fill="url(#g_blue)"/><circle cx="387.8" cy="289.3" r="4.4" fill="url(#g_blue)"/><circle cx="404.3" cy="284.4" r="4.4" fill="url(#g_blue)"/><circle cx="420.7" cy="287" r="4.4" fill="url(#g_blue)"/><circle cx="420.7" cy="282" r="4.4" fill="url(#g_blue)"/><circle cx="427.3" cy="279.8" r="4.4" fill="url(#g_blue)"/><circle cx="433.8" cy="276.3" r="4.4" fill="url(#g_blue)"/><circle cx="440.4" cy="272.2" r="4.4" fill="url(#g_blue)"/><circle cx="447" cy="267.5" r="4.4" fill="url(#g_blue)"/><circle cx="453.5" cy="261.1" r="4.4" fill="url(#g_blue)"/><circle cx="460.1" cy="251.7" r="4.4" fill="url(#g_blue)"/><circle cx="466.7" cy="241.5" r="4.4" fill="url(#g_blue)"/><circle cx="473.3" cy="223.7" r="4.4" fill="url(#g_blue)"/><circle cx="479.8" cy="195" r="4.4" fill="url(#g_blue)"/><circle cx="480.5" cy="191.9" r="4.4" fill="url(#g_blue)"/><circle cx="481.1" cy="188.8" r="4.4" fill="url(#g_blue)"/><circle cx="481.8" cy="185.7" r="4.4" fill="url(#g_blue)"/><circle cx="482.5" cy="182.6" r="4.4" fill="url(#g_blue)"/><circle cx="483.1" cy="179.4" r="4.4" fill="url(#g_blue)"/><circle cx="483.8" cy="176.3" r="4.4" fill="url(#g_blue)"/><circle cx="484.4" cy="173.2" r="4.4" fill="url(#g_blue)"/><circle cx="485.1" cy="170.1" r="4.4" fill="url(#g_blue)"/><circle cx="485.2" cy="167.3" r="4.4" fill="url(#g_blue)"/><circle cx="485.3" cy="164.8" r="4.4" fill="url(#g_blue)"/><circle cx="485.4" cy="162.5" r="4.4" fill="url(#g_blue)"/><circle cx="485.5" cy="160.3" r="4.4" fill="url(#g_blue)"/><circle cx="485.6" cy="158.1" r="4.4" fill="url(#g_blue)"/><circle cx="485.6" cy="155.9" r="4.4" fill="url(#g_blue)"/><circle cx="485.7" cy="153.8" r="4.4" fill="url(#g_blue)"/><circle cx="485.8" cy="151.7" r="4.4" fill="url(#g_blue)"/><circle cx="485.9" cy="149.7" r="4.4" fill="url(#g_blue)"/><circle cx="486" cy="147.6" r="4.4" fill="url(#g_blue)"/><circle cx="486.1" cy="145.6" r="4.4" fill="url(#g_blue)"/><circle cx="486.2" cy="143.6" r="4.4" fill="url(#g_blue)"/><circle cx="486.3" cy="141.7" r="4.4" fill="url(#g_blue)"/><circle cx="486.4" cy="139.7" r="4.4" fill="url(#g_blue)"/><circle cx="486.5" cy="140.7" r="4.4" fill="url(#g_blue)"/><circle cx="486.6" cy="141.9" r="4.4" fill="url(#g_blue)"/><circle cx="486.7" cy="143.1" r="4.4" fill="url(#g_blue)"/><circle cx="486.8" cy="144.4" r="4.4" fill="url(#g_blue)"/><circle cx="486.9" cy="145.7" r="4.4" fill="url(#g_blue)"/><circle cx="487" cy="147" r="4.4" fill="url(#g_blue)"/><circle cx="487.1" cy="148.4" r="4.4" fill="url(#g_blue)"/><circle cx="487.2" cy="149.7" r="4.4" fill="url(#g_blue)"/><circle cx="487.2" cy="151.1" r="4.4" fill="url(#g_blue)"/><circle cx="487.3" cy="152.5" r="4.4" fill="url(#g_blue)"/><circle cx="487.4" cy="153.9" r="4.4" fill="url(#g_blue)"/><circle cx="487.5" cy="155.4" r="4.4" fill="url(#g_blue)"/><circle cx="487.6" cy="156.8" r="4.4" fill="url(#g_blue)"/><circle cx="487.7" cy="158.3" r="4.4" fill="url(#g_blue)"/><circle cx="488.4" cy="165.2" r="4.4" fill="url(#g_blue)"/><circle cx="489" cy="172.2" r="4.4" fill="url(#g_blue)"/><circle cx="489.7" cy="179.2" r="4.4" fill="url(#g_blue)"/><circle cx="490.3" cy="186.1" r="4.4" fill="url(#g_blue)"/><circle cx="491" cy="193.1" r="4.4" fill="url(#g_blue)"/><circle cx="491.7" cy="200.1" r="4.4" fill="url(#g_blue)"/><circle cx="492.3" cy="207" r="4.4" fill="url(#g_blue)"/><circle cx="493" cy="214" r="4.4" fill="url(#g_blue)"/><circle cx="499.5" cy="245.4" r="4.4" fill="url(#g_blue)"/><circle cx="506.1" cy="274.6" r="4.4" fill="url(#g_blue)"/><circle cx="512.7" cy="306.5" r="4.4" fill="url(#g_blue)"/><circle cx="519.2" cy="323" r="4.4" fill="url(#g_blue)"/><circle cx="525.8" cy="345.5" r="4.4" fill="url(#g_blue)"/><circle cx="532.4" cy="367" r="4.4" fill="url(#g_blue)"/><circle cx="539" cy="380" r="4.4" fill="url(#g_blue)"/><circle cx="545.5" cy="397" r="4.4" fill="url(#g_blue)"/><circle cx="552.1" cy="410.5" r="4.4" fill="url(#g_blue)"/><circle cx="552.1" cy="415.5" r="4.4" fill="url(#g_blue)"/><circle cx="568.5" cy="429.8" r="4.4" fill="url(#g_blue)"/><circle cx="585" cy="445.4" r="4.4" fill="url(#g_blue)"/><circle cx="601.4" cy="453.2" r="4.4" fill="url(#g_blue)"/><circle cx="617.8" cy="456.1" r="4.4" fill="url(#g_blue)"/><circle cx="634.2" cy="458.3" r="4.4" fill="url(#g_blue)"/><circle cx="650.6" cy="458.3" r="4.4" fill="url(#g_blue)"/><circle cx="667.1" cy="457.6" r="4.4" fill="url(#g_blue)"/><circle cx="683.5" cy="457.6" r="4.4" fill="url(#g_blue)"/><circle cx="699.9" cy="457.6" r="4.4" fill="url(#g_blue)"/><circle cx="716.4" cy="457.6" r="4.4" fill="url(#g_blue)"/><circle cx="732.8" cy="457.5" r="4.4" fill="url(#g_blue)"/><circle cx="749.2" cy="457.5" r="4.4" fill="url(#g_blue)"/><circle cx="765.6" cy="457.5" r="4.4" fill="url(#g_blue)"/><circle cx="782" cy="457.4" r="4.4" fill="url(#g_blue)"/><circle cx="798.5" cy="457.4" r="4.4" fill="url(#g_blue)"/><circle cx="814.9" cy="457.4" r="4.4" fill="url(#g_blue)"/><circle cx="157.9" cy="302.6" r="4.4" fill="url(#g_blue)"/><circle cx="174.3" cy="302.6" r="4.4" fill="url(#g_blue)"/><circle cx="190.7" cy="302.6" r="4.4" fill="url(#g_blue)"/><circle cx="207.2" cy="302.5" r="4.4" fill="url(#g_blue)"/><circle cx="223.6" cy="302.5" r="4.4" fill="url(#g_blue)"/><circle cx="240" cy="302.5" r="4.4" fill="url(#g_blue)"/><circle cx="256.4" cy="302.4" r="4.4" fill="url(#g_blue)"/><circle cx="272.9" cy="302.4" r="4.4" fill="url(#g_blue)"/><circle cx="289.3" cy="302.4" r="4.4" fill="url(#g_blue)"/><circle cx="305.7" cy="302.4" r="4.4" fill="url(#g_blue)"/><circle cx="322.1" cy="301.7" r="4.4" fill="url(#g_blue)"/><circle cx="338.6" cy="301.7" r="4.4" fill="url(#g_blue)"/><circle cx="355" cy="303.9" r="4.4" fill="url(#g_blue)"/><circle cx="371.4" cy="306.8" r="4.4" fill="url(#g_blue)"/><circle cx="387.8" cy="314.6" r="4.4" fill="url(#g_blue)"/><circle cx="404.3" cy="330.2" r="4.4" fill="url(#g_blue)"/><circle cx="420.7" cy="344.5" r="4.4" fill="url(#g_blue)"/><circle cx="420.7" cy="349.5" r="4.4" fill="url(#g_blue)"/><circle cx="427.3" cy="363" r="4.4" fill="url(#g_blue)"/><circle cx="433.8" cy="380" r="4.4" fill="url(#g_blue)"/><circle cx="440.4" cy="393" r="4.4" fill="url(#g_blue)"/><circle cx="447" cy="414.5" r="4.4" fill="url(#g_blue)"/><circle cx="453.5" cy="437" r="4.4" fill="url(#g_blue)"/><circle cx="460.1" cy="453.5" r="4.4" fill="url(#g_blue)"/><circle cx="466.7" cy="485.4" r="4.4" fill="url(#g_blue)"/><circle cx="473.3" cy="514.6" r="4.4" fill="url(#g_blue)"/><circle cx="479.8" cy="546" r="4.4" fill="url(#g_blue)"/><circle cx="480.5" cy="550.2" r="4.4" fill="url(#g_blue)"/><circle cx="481.1" cy="554.4" r="4.4" fill="url(#g_blue)"/><circle cx="481.8" cy="558.6" r="4.4" fill="url(#g_blue)"/><circle cx="482.5" cy="562.8" r="4.4" fill="url(#g_blue)"/><circle cx="483.1" cy="567" r="4.4" fill="url(#g_blue)"/><circle cx="483.8" cy="571.1" r="4.4" fill="url(#g_blue)"/><circle cx="484.4" cy="575.3" r="4.4" fill="url(#g_blue)"/><circle cx="485.1" cy="579.5" r="4.4" fill="url(#g_blue)"/><circle cx="485.2" cy="583.3" r="4.4" fill="url(#g_blue)"/><circle cx="485.3" cy="586.6" r="4.4" fill="url(#g_blue)"/><circle cx="485.4" cy="589.8" r="4.4" fill="url(#g_blue)"/><circle cx="485.5" cy="592.8" r="4.4" fill="url(#g_blue)"/><circle cx="485.6" cy="595.7" r="4.4" fill="url(#g_blue)"/><circle cx="485.6" cy="598.6" r="4.4" fill="url(#g_blue)"/><circle cx="485.7" cy="601.5" r="4.4" fill="url(#g_blue)"/><circle cx="485.8" cy="604.3" r="4.4" fill="url(#g_blue)"/><circle cx="485.9" cy="607.1" r="4.4" fill="url(#g_blue)"/><circle cx="486" cy="609.8" r="4.4" fill="url(#g_blue)"/><circle cx="486.1" cy="612.5" r="4.4" fill="url(#g_blue)"/><circle cx="486.2" cy="615.2" r="4.4" fill="url(#g_blue)"/><circle cx="486.3" cy="617.9" r="4.4" fill="url(#g_blue)"/><circle cx="486.4" cy="620.5" r="4.4" fill="url(#g_blue)"/><circle cx="486.5" cy="619.7" r="4.4" fill="url(#g_blue)"/><circle cx="486.6" cy="618.9" r="4.4" fill="url(#g_blue)"/><circle cx="486.7" cy="618" r="4.4" fill="url(#g_blue)"/><circle cx="486.8" cy="617" r="4.4" fill="url(#g_blue)"/><circle cx="486.9" cy="616" r="4.4" fill="url(#g_blue)"/><circle cx="487" cy="615" r="4.4" fill="url(#g_blue)"/><circle cx="487.1" cy="614" r="4.4" fill="url(#g_blue)"/><circle cx="487.2" cy="613" r="4.4" fill="url(#g_blue)"/><circle cx="487.2" cy="612" r="4.4" fill="url(#g_blue)"/><circle cx="487.3" cy="610.9" r="4.4" fill="url(#g_blue)"/><circle cx="487.4" cy="609.9" r="4.4" fill="url(#g_blue)"/><circle cx="487.5" cy="608.8" r="4.4" fill="url(#g_blue)"/><circle cx="487.6" cy="607.7" r="4.4" fill="url(#g_blue)"/><circle cx="487.7" cy="606.6" r="4.4" fill="url(#g_blue)"/><circle cx="488.4" cy="601.4" r="4.4" fill="url(#g_blue)"/><circle cx="489" cy="596.2" r="4.4" fill="url(#g_blue)"/><circle cx="489.7" cy="591" r="4.4" fill="url(#g_blue)"/><circle cx="490.3" cy="585.8" r="4.4" fill="url(#g_blue)"/><circle cx="491" cy="580.6" r="4.4" fill="url(#g_blue)"/><circle cx="491.7" cy="575.4" r="4.4" fill="url(#g_blue)"/><circle cx="492.3" cy="570.2" r="4.4" fill="url(#g_blue)"/><circle cx="493" cy="565" r="4.4" fill="url(#g_blue)"/><circle cx="499.5" cy="536.3" r="4.4" fill="url(#g_blue)"/><circle cx="506.1" cy="518.5" r="4.4" fill="url(#g_blue)"/><circle cx="512.7" cy="508.3" r="4.4" fill="url(#g_blue)"/><circle cx="519.2" cy="498.9" r="4.4" fill="url(#g_blue)"/><circle cx="525.8" cy="492.5" r="4.4" fill="url(#g_blue)"/><circle cx="532.4" cy="487.8" r="4.4" fill="url(#g_blue)"/><circle cx="539" cy="483.7" r="4.4" fill="url(#g_blue)"/><circle cx="545.5" cy="480.2" r="4.4" fill="url(#g_blue)"/><circle cx="552.1" cy="478" r="4.4" fill="url(#g_blue)"/><circle cx="552.1" cy="473" r="4.4" fill="url(#g_blue)"/><circle cx="568.5" cy="475.6" r="4.4" fill="url(#g_blue)"/><circle cx="585" cy="470.7" r="4.4" fill="url(#g_blue)"/><circle cx="601.4" cy="467.4" r="4.4" fill="url(#g_blue)"/><circle cx="617.8" cy="464.9" r="4.4" fill="url(#g_blue)"/><circle cx="634.2" cy="462.7" r="4.4" fill="url(#g_blue)"/><circle cx="650.6" cy="460.5" r="4.4" fill="url(#g_blue)"/><circle cx="667.1" cy="459" r="4.4" fill="url(#g_blue)"/><circle cx="683.5" cy="458.3" r="4.4" fill="url(#g_blue)"/><circle cx="699.9" cy="458.2" r="4.4" fill="url(#g_blue)"/><circle cx="716.4" cy="458.1" r="4.4" fill="url(#g_blue)"/><circle cx="732.8" cy="458" r="4.4" fill="url(#g_blue)"/><circle cx="749.2" cy="457.8" r="4.4" fill="url(#g_blue)"/><circle cx="765.6" cy="457.7" r="4.4" fill="url(#g_blue)"/><circle cx="782" cy="457.6" r="4.4" fill="url(#g_blue)"/><circle cx="798.5" cy="456.8" r="4.4" fill="url(#g_blue)"/><circle cx="814.9" cy="457.6" r="4.4" fill="url(#g_blue)"/><path d="M162.9 286.2L169.3 289.7M180 292.5L185 292.5M196.4 292.9L201.5 293.3M212.8 293.1L217.9 292.5M229.3 291.8L234.3 291.6M245.7 291.5L250.7 291.5M262.1 292.2L267.2 292.7M278.5 294L283.6 294.6M295 295.7L300 296.1M311.4 296.9L316.5 297.3M327.8 297.7L332.9 297.9M344.3 298.1L349.3 298.2M360.7 298.4L365.7 298.4M377.1 298.5L382.1 298.5M393.5 298.5L398.6 298.5M410 298.4L415 298.3M463.2 259.2L463.6 258.8M469.7 249.2L470.2 248.3M474.5 237.9L478.5 220.6M493.8 267.6L498.7 299M500.6 310.2L505 333.4M507.3 344.6L511.5 364.8M514.1 375.9L517.8 390.8M520.8 401.8L524.3 414.5M528.6 425L529.7 427M557.8 452.3L562.8 452.6M574.1 453.9L579.3 454.8M590.6 456.5L595.7 457.2M607.1 458.4L612.1 458.9M623.5 460L628.6 460.4M639.9 461.7L645 462.3M656.3 463.3L661.4 463.7M672.8 464.3L677.8 464.7M689.2 465.1L694.2 465.2M705.6 465.3L710.7 465.4M722 465.6L727.1 465.7M738.5 465.8L743.5 465.9M754.9 466L759.9 466M771.3 466L776.3 466M787.8 466L792.8 466M804.2 466L809.2 466" stroke="#00ffff" stroke-width="1.2" fill="none"/><path d="M163.4 296.6L168.8 298M179.8 301.2L185.3 302.8M196.1 306.6L201.9 308.9M212.7 312.3L218.1 313.6M229.3 315.4L234.3 315.8M245.7 316.8L250.8 317.3M262.1 317.5L267.2 317.3M278.6 316.8L283.6 316.5M295 316.4L300 316.5M311.4 316.7L316.5 316.9M327.8 317.1L332.9 317.3M344.3 317.9L349.3 318.3M360.7 319L365.7 319.3M377.1 320L382.2 320.5M393.5 321.5L398.6 322M410 322.2L415 322M448.9 346.4L451.6 353.6M455.4 364.4L458.3 372.6M461.5 383.5L465.3 398.5M467.9 409.6L472 428.4M474.1 439.6L479 474.4M494.3 539.4L498.3 522.1M502.6 511.7L503.1 510.8M509.2 501.2L509.6 500.8M557.8 461.7L562.8 461.6M574.2 461.5L579.2 461.5M590.7 461.5L595.7 461.5M607.1 461.6L612.1 461.6M623.5 461.8L628.5 461.9M639.9 462.1L645 462.3M656.3 462.7L661.4 463.1M672.8 463.9L677.8 464.3M689.2 465.4L694.3 466M705.6 467.3L710.7 467.8M722.1 468.5L727.1 468.5M738.5 468.4L743.5 468.2M754.9 467.5L760 466.9M771.3 466.7L776.4 467.1M787.8 467.5L792.8 467.5M804.2 467.8L809.2 468.2" stroke="#00ffff" stroke-width="1.2" fill="none"/><path d="M163.4 296.6L168.8 298M179.8 301L185.2 302.4M196.3 305.2L201.6 306.3M212.8 308.4L218 309M229.3 310L234.3 310.3M245.7 310.5L250.7 310.5M262.1 310.5L267.2 310.5M278.6 310.5L283.6 310.5M295 310.7L300 311M311.4 311.7L316.5 312.2M327.8 313.2L332.9 313.7M344.2 314.9L349.3 315.6M360.7 316.9L365.8 317.5M377.1 318.8L382.2 319.3M393.5 320.5L398.6 321M410 321.7L415 321.8M463 291.1L463.8 289.9M469 279.8L471 275.2M474.7 264.5L478.4 250.5M488 183.6L488.1 184.3M488.7 195.7L488.7 196.5M489.3 207.8L489.4 208.6M490 220L490 220.7M490.7 232.1L490.7 232.9M491.3 244.3L491.3 245M492 256.4L492 257.2M492.6 268.6L492.7 269.3M493.8 280.6L498.7 312.4M500.6 323.6L505 346.4M507.4 357.5L511.4 374.5M514.1 385.5L517.8 399.5M521 410.4L524.1 420.6M528.6 431L529.7 433M557.7 458.8L562.9 459.4M574.2 460.7L579.3 461.2M590.6 461.9L595.7 462.1M607.1 462.6L612.1 462.9M623.5 463.5L628.5 463.8M639.9 464.4L645 464.7M656.3 465.3L661.4 465.7M672.8 466.3L677.8 466.7M689.2 467.2L694.2 467.3M705.6 467.7L710.7 467.8M722 468.2L727.1 468.3M738.5 468.7L743.5 468.8M754.9 469.1L759.9 469.2M771.3 469.3L776.4 469.4M787.7 469.6L792.8 469.7M804.2 469.8L809.2 469.9" stroke="#00ffff" stroke-width="1.2" fill="none"/><circle cx="157.9" cy="283.4" r="4.4" fill="url(#g_cyan)"/><circle cx="174.3" cy="292.5" r="4.4" fill="url(#g_cyan)"/><circle cx="190.7" cy="292.5" r="4.4" fill="url(#g_cyan)"/><circle cx="207.2" cy="293.7" r="4.4" fill="url(#g_cyan)"/><circle cx="223.6" cy="291.9" r="4.4" fill="url(#g_cyan)"/><circle cx="240" cy="291.5" r="4.4" fill="url(#g_cyan)"/><circle cx="256.4" cy="291.5" r="4.4" fill="url(#g_cyan)"/><circle cx="272.9" cy="293.4" r="4.4" fill="url(#g_cyan)"/><circle cx="289.3" cy="295.2" r="4.4" fill="url(#g_cyan)"/><circle cx="305.7" cy="296.6" r="4.4" fill="url(#g_cyan)"/><circle cx="322.1" cy="297.6" r="4.4" fill="url(#g_cyan)"/><circle cx="338.6" cy="298" r="4.4" fill="url(#g_cyan)"/><circle cx="355" cy="298.3" r="4.4" fill="url(#g_cyan)"/><circle cx="371.4" cy="298.5" r="4.4" fill="url(#g_cyan)"/><circle cx="387.8" cy="298.5" r="4.4" fill="url(#g_cyan)"/><circle cx="404.3" cy="298.5" r="4.4" fill="url(#g_cyan)"/><circle cx="420.7" cy="298.2" r="4.4" fill="url(#g_cyan)"/><circle cx="420.7" cy="294.2" r="4.4" fill="url(#g_cyan)"/><circle cx="427.3" cy="290.4" r="4.4" fill="url(#g_cyan)"/><circle cx="433.8" cy="288" r="4.4" fill="url(#g_cyan)"/><circle cx="440.4" cy="284.5" r="4.4" fill="url(#g_cyan)"/><circle cx="447" cy="279.8" r="4.4" fill="url(#g_cyan)"/><circle cx="453.5" cy="272.8" r="4.4" fill="url(#g_cyan)"/><circle cx="460.1" cy="264" r="4.4" fill="url(#g_cyan)"/><circle cx="466.7" cy="254" r="4.4" fill="url(#g_cyan)"/><circle cx="473.3" cy="243.5" r="4.4" fill="url(#g_cyan)"/><circle cx="479.8" cy="215" r="4.4" fill="url(#g_cyan)"/><circle cx="480.5" cy="210.9" r="4.4" fill="url(#g_cyan)"/><circle cx="481.1" cy="206.8" r="4.4" fill="url(#g_cyan)"/><circle cx="481.8" cy="202.8" r="4.4" fill="url(#g_cyan)"/><circle cx="482.5" cy="198.7" r="4.4" fill="url(#g_cyan)"/><circle cx="483.1" cy="194.6" r="4.4" fill="url(#g_cyan)"/><circle cx="483.8" cy="190.5" r="4.4" fill="url(#g_cyan)"/><circle cx="484.4" cy="186.5" r="4.4" fill="url(#g_cyan)"/><circle cx="485.1" cy="182.4" r="4.4" fill="url(#g_cyan)"/><circle cx="485.2" cy="178.7" r="4.4" fill="url(#g_cyan)"/><circle cx="485.3" cy="175.5" r="4.4" fill="url(#g_cyan)"/><circle cx="485.4" cy="172.4" r="4.4" fill="url(#g_cyan)"/><circle cx="485.5" cy="169.5" r="4.4" fill="url(#g_cyan)"/><circle cx="485.6" cy="166.6" r="4.4" fill="url(#g_cyan)"/><circle cx="485.6" cy="163.8" r="4.4" fill="url(#g_cyan)"/><circle cx="485.7" cy="161" r="4.4" fill="url(#g_cyan)"/><circle cx="485.8" cy="158.3" r="4.4" fill="url(#g_cyan)"/><circle cx="485.9" cy="155.6" r="4.4" fill="url(#g_cyan)"/><circle cx="486" cy="152.9" r="4.4" fill="url(#g_cyan)"/><circle cx="486.1" cy="150.3" r="4.4" fill="url(#g_cyan)"/><circle cx="486.2" cy="147.7" r="4.4" fill="url(#g_cyan)"/><circle cx="486.3" cy="145.1" r="4.4" fill="url(#g_cyan)"/><circle cx="486.4" cy="142.5" r="4.4" fill="url(#g_cyan)"/><circle cx="486.5" cy="144.1" r="4.4" fill="url(#g_cyan)"/><circle cx="486.6" cy="146" r="4.4" fill="url(#g_cyan)"/><circle cx="486.7" cy="148" r="4.4" fill="url(#g_cyan)"/><circle cx="486.8" cy="150" r="4.4" fill="url(#g_cyan)"/><circle cx="486.9" cy="152.1" r="4.4" fill="url(#g_cyan)"/><circle cx="487" cy="154.3" r="4.4" fill="url(#g_cyan)"/><circle cx="487.1" cy="156.4" r="4.4" fill="url(#g_cyan)"/><circle cx="487.2" cy="158.6" r="4.4" fill="url(#g_cyan)"/><circle cx="487.2" cy="160.9" r="4.4" fill="url(#g_cyan)"/><circle cx="487.3" cy="163.1" r="4.4" fill="url(#g_cyan)"/><circle cx="487.4" cy="165.4" r="4.4" fill="url(#g_cyan)"/><circle cx="487.5" cy="167.7" r="4.4" fill="url(#g_cyan)"/><circle cx="487.6" cy="170" r="4.4" fill="url(#g_cyan)"/><circle cx="487.7" cy="172.4" r="4.4" fill="url(#g_cyan)"/><circle cx="488.4" cy="183.6" r="4.4" fill="url(#g_cyan)"/><circle cx="489" cy="194.8" r="4.4" fill="url(#g_cyan)"/><circle cx="489.7" cy="206" r="4.4" fill="url(#g_cyan)"/><circle cx="490.3" cy="217.2" r="4.4" fill="url(#g_cyan)"/><circle cx="491" cy="228.4" r="4.4" fill="url(#g_cyan)"/><circle cx="491.7" cy="239.6" r="4.4" fill="url(#g_cyan)"/><circle cx="492.3" cy="250.8" r="4.4" fill="url(#g_cyan)"/><circle cx="493" cy="262" r="4.4" fill="url(#g_cyan)"/><circle cx="499.5" cy="304.6" r="4.4" fill="url(#g_cyan)"/><circle cx="506.1" cy="339" r="4.4" fill="url(#g_cyan)"/><circle cx="512.7" cy="370.4" r="4.4" fill="url(#g_cyan)"/><circle cx="519.2" cy="396.3" r="4.4" fill="url(#g_cyan)"/><circle cx="525.8" cy="420" r="4.4" fill="url(#g_cyan)"/><circle cx="532.4" cy="432" r="4.4" fill="url(#g_cyan)"/><circle cx="539" cy="440.6" r="4.4" fill="url(#g_cyan)"/><circle cx="545.5" cy="445.6" r="4.4" fill="url(#g_cyan)"/><circle cx="552.1" cy="448" r="4.4" fill="url(#g_cyan)"/><circle cx="552.1" cy="452" r="4.4" fill="url(#g_cyan)"/><circle cx="568.5" cy="452.9" r="4.4" fill="url(#g_cyan)"/><circle cx="585" cy="455.8" r="4.4" fill="url(#g_cyan)"/><circle cx="601.4" cy="457.9" r="4.4" fill="url(#g_cyan)"/><circle cx="617.8" cy="459.4" r="4.4" fill="url(#g_cyan)"/><circle cx="634.2" cy="461" r="4.4" fill="url(#g_cyan)"/><circle cx="650.6" cy="463" r="4.4" fill="url(#g_cyan)"/><circle cx="667.1" cy="464" r="4.4" fill="url(#g_cyan)"/><circle cx="683.5" cy="465" r="4.4" fill="url(#g_cyan)"/><circle cx="699.9" cy="465.2" r="4.4" fill="url(#g_cyan)"/><circle cx="716.4" cy="465.5" r="4.4" fill="url(#g_cyan)"/><circle cx="732.8" cy="465.8" r="4.4" fill="url(#g_cyan)"/><circle cx="749.2" cy="466" r="4.4" fill="url(#g_cyan)"/><circle cx="765.6" cy="466" r="4.4" fill="url(#g_cyan)"/><circle cx="782" cy="466" r="4.4" fill="url(#g_cyan)"/><circle cx="798.5" cy="466" r="4.4" fill="url(#g_cyan)"/><circle cx="814.9" cy="466" r="4.4" fill="url(#g_cyan)"/><circle cx="157.9" cy="295.1" r="4.4" fill="url(#g_cyan)"/><circle cx="174.3" cy="299.5" r="4.4" fill="url(#g_cyan)"/><circle cx="190.7" cy="304.5" r="4.4" fill="url(#g_cyan)"/><circle cx="207.2" cy="311" r="4.4" fill="url(#g_cyan)"/><circle cx="223.6" cy="314.9" r="4.4" fill="url(#g_cyan)"/><circle cx="240" cy="316.3" r="4.4" fill="url(#g_cyan)"/><circle cx="256.4" cy="317.8" r="4.4" fill="url(#g_cyan)"/><circle cx="272.9" cy="317" r="4.4" fill="url(#g_cyan)"/><circle cx="289.3" cy="316.3" r="4.4" fill="url(#g_cyan)"/><circle cx="305.7" cy="316.6" r="4.4" fill="url(#g_cyan)"/><circle cx="322.1" cy="317" r="4.4" fill="url(#g_cyan)"/><circle cx="338.6" cy="317.4" r="4.4" fill="url(#g_cyan)"/><circle cx="355" cy="318.8" r="4.4" fill="url(#g_cyan)"/><circle cx="371.4" cy="319.5" r="4.4" fill="url(#g_cyan)"/><circle cx="387.8" cy="321" r="4.4" fill="url(#g_cyan)"/><circle cx="404.3" cy="322.5" r="4.4" fill="url(#g_cyan)"/><circle cx="420.7" cy="321.7" r="4.4" fill="url(#g_cyan)"/><circle cx="420.7" cy="325.7" r="4.4" fill="url(#g_cyan)"/><circle cx="427.3" cy="325" r="4.4" fill="url(#g_cyan)"/><circle cx="433.8" cy="328" r="4.4" fill="url(#g_cyan)"/><circle cx="440.4" cy="333" r="4.4" fill="url(#g_cyan)"/><circle cx="447" cy="341" r="4.4" fill="url(#g_cyan)"/><circle cx="453.5" cy="359" r="4.4" fill="url(#g_cyan)"/><circle cx="460.1" cy="378" r="4.4" fill="url(#g_cyan)"/><circle cx="466.7" cy="404" r="4.4" fill="url(#g_cyan)"/><circle cx="473.3" cy="434" r="4.4" fill="url(#g_cyan)"/><circle cx="479.8" cy="480" r="4.4" fill="url(#g_cyan)"/><circle cx="480.5" cy="487.5" r="4.4" fill="url(#g_cyan)"/><circle cx="481.1" cy="495" r="4.4" fill="url(#g_cyan)"/><circle cx="481.8" cy="502.4" r="4.4" fill="url(#g_cyan)"/><circle cx="482.5" cy="509.9" r="4.4" fill="url(#g_cyan)"/><circle cx="483.1" cy="517.4" r="4.4" fill="url(#g_cyan)"/><circle cx="483.8" cy="524.9" r="4.4" fill="url(#g_cyan)"/><circle cx="484.4" cy="532.4" r="4.4" fill="url(#g_cyan)"/><circle cx="485.1" cy="539.9" r="4.4" fill="url(#g_cyan)"/><circle cx="485.2" cy="546.7" r="4.4" fill="url(#g_cyan)"/><circle cx="485.3" cy="552.5" r="4.4" fill="url(#g_cyan)"/><circle cx="485.4" cy="558.1" r="4.4" fill="url(#g_cyan)"/><circle cx="485.5" cy="563.5" r="4.4" fill="url(#g_cyan)"/><circle cx="485.6" cy="568.8" r="4.4" fill="url(#g_cyan)"/><circle cx="485.6" cy="574" r="4.4" fill="url(#g_cyan)"/><circle cx="485.7" cy="579.1" r="4.4" fill="url(#g_cyan)"/><circle cx="485.8" cy="584.1" r="4.4" fill="url(#g_cyan)"/><circle cx="485.9" cy="589" r="4.4" fill="url(#g_cyan)"/><circle cx="486" cy="593.9" r="4.4" fill="url(#g_cyan)"/><circle cx="486.1" cy="598.7" r="4.4" fill="url(#g_cyan)"/><circle cx="486.2" cy="603.5" r="4.4" fill="url(#g_cyan)"/><circle cx="486.3" cy="608.3" r="4.4" fill="url(#g_cyan)"/><circle cx="486.4" cy="613" r="4.4" fill="url(#g_cyan)"/><circle cx="486.5" cy="612.1" r="4.4" fill="url(#g_cyan)"/><circle cx="486.6" cy="611" r="4.4" fill="url(#g_cyan)"/><circle cx="486.7" cy="609.9" r="4.4" fill="url(#g_cyan)"/><circle cx="486.8" cy="608.7" r="4.4" fill="url(#g_cyan)"/><circle cx="486.9" cy="607.5" r="4.4" fill="url(#g_cyan)"/><circle cx="487" cy="606.3" r="4.4" fill="url(#g_cyan)"/><circle cx="487.1" cy="605.1" r="4.4" fill="url(#g_cyan)"/><circle cx="487.2" cy="603.8" r="4.4" fill="url(#g_cyan)"/><circle cx="487.2" cy="602.5" r="4.4" fill="url(#g_cyan)"/><circle cx="487.3" cy="601.3" r="4.4" fill="url(#g_cyan)"/><circle cx="487.4" cy="600" r="4.4" fill="url(#g_cyan)"/><circle cx="487.5" cy="598.7" r="4.4" fill="url(#g_cyan)"/><circle cx="487.6" cy="597.3" r="4.4" fill="url(#g_cyan)"/><circle cx="487.7" cy="596" r="4.4" fill="url(#g_cyan)"/><circle cx="488.4" cy="589.6" r="4.4" fill="url(#g_cyan)"/><circle cx="489" cy="583.2" r="4.4" fill="url(#g_cyan)"/><circle cx="489.7" cy="576.9" r="4.4" fill="url(#g_cyan)"/><circle cx="490.3" cy="570.5" r="4.4" fill="url(#g_cyan)"/><circle cx="491" cy="564.1" r="4.4" fill="url(#g_cyan)"/><circle cx="491.7" cy="557.8" r="4.4" fill="url(#g_cyan)"/><circle cx="492.3" cy="551.4" r="4.4" fill="url(#g_cyan)"/><circle cx="493" cy="545" r="4.4" fill="url(#g_cyan)"/><circle cx="499.5" cy="516.5" r="4.4" fill="url(#g_cyan)"/><circle cx="506.1" cy="506" r="4.4" fill="url(#g_cyan)"/><circle cx="512.7" cy="496" r="4.4" fill="url(#g_cyan)"/><circle cx="519.2" cy="487.2" r="4.4" fill="url(#g_cyan)"/><circle cx="525.8" cy="480.2" r="4.4" fill="url(#g_cyan)"/><circle cx="532.4" cy="475.5" r="4.4" fill="url(#g_cyan)"/><circle cx="539" cy="472" r="4.4" fill="url(#g_cyan)"/><circle cx="545.5" cy="469.6" r="4.4" fill="url(#g_cyan)"/><circle cx="552.1" cy="465.8" r="4.4" fill="url(#g_cyan)"/><circle cx="552.1" cy="461.8" r="4.4" fill="url(#g_cyan)"/><circle cx="568.5" cy="461.5" r="4.4" fill="url(#g_cyan)"/><circle cx="585" cy="461.5" r="4.4" fill="url(#g_cyan)"/><circle cx="601.4" cy="461.5" r="4.4" fill="url(#g_cyan)"/><circle cx="617.8" cy="461.7" r="4.4" fill="url(#g_cyan)"/><circle cx="634.2" cy="462" r="4.4" fill="url(#g_cyan)"/><circle cx="650.6" cy="462.4" r="4.4" fill="url(#g_cyan)"/><circle cx="667.1" cy="463.4" r="4.4" fill="url(#g_cyan)"/><circle cx="683.5" cy="464.8" r="4.4" fill="url(#g_cyan)"/><circle cx="699.9" cy="466.6" r="4.4" fill="url(#g_cyan)"/><circle cx="716.4" cy="468.5" r="4.4" fill="url(#g_cyan)"/><circle cx="732.8" cy="468.5" r="4.4" fill="url(#g_cyan)"/><circle cx="749.2" cy="468.1" r="4.4" fill="url(#g_cyan)"/><circle cx="765.6" cy="466.3" r="4.4" fill="url(#g_cyan)"/><circle cx="782" cy="467.5" r="4.4" fill="url(#g_cyan)"/><circle cx="798.5" cy="467.5" r="4.4" fill="url(#g_cyan)"/><circle cx="814.9" cy="468.5" r="4.4" fill="url(#g_cyan)"/><circle cx="157.9" cy="295.1" r="4.4" fill="url(#g_cyan)"/><circle cx="174.3" cy="299.5" r="4.4" fill="url(#g_cyan)"/><circle cx="190.7" cy="303.9" r="4.4" fill="url(#g_cyan)"/><circle cx="207.2" cy="307.6" r="4.4" fill="url(#g_cyan)"/><circle cx="223.6" cy="309.8" r="4.4" fill="url(#g_cyan)"/><circle cx="240" cy="310.5" r="4.4" fill="url(#g_cyan)"/><circle cx="256.4" cy="310.5" r="4.4" fill="url(#g_cyan)"/><circle cx="272.9" cy="310.5" r="4.4" fill="url(#g_cyan)"/><circle cx="289.3" cy="310.5" r="4.4" fill="url(#g_cyan)"/><circle cx="305.7" cy="311.2" r="4.4" fill="url(#g_cyan)"/><circle cx="322.1" cy="312.7" r="4.4" fill="url(#g_cyan)"/><circle cx="338.6" cy="314.2" r="4.4" fill="url(#g_cyan)"/><circle cx="355" cy="316.3" r="4.4" fill="url(#g_cyan)"/><circle cx="371.4" cy="318.1" r="4.4" fill="url(#g_cyan)"/><circle cx="387.8" cy="320" r="4.4" fill="url(#g_cyan)"/><circle cx="404.3" cy="321.5" r="4.4" fill="url(#g_cyan)"/><circle cx="420.7" cy="322" r="4.4" fill="url(#g_cyan)"/><circle cx="420.7" cy="318" r="4.4" fill="url(#g_cyan)"/><circle cx="427.3" cy="317" r="4.4" fill="url(#g_cyan)"/><circle cx="433.8" cy="315" r="4.4" fill="url(#g_cyan)"/><circle cx="440.4" cy="311.4" r="4.4" fill="url(#g_cyan)"/><circle cx="447" cy="307.9" r="4.4" fill="url(#g_cyan)"/><circle cx="453.5" cy="303.2" r="4.4" fill="url(#g_cyan)"/><circle cx="460.1" cy="296" r="4.4" fill="url(#g_cyan)"/><circle cx="466.7" cy="285" r="4.4" fill="url(#g_cyan)"/><circle cx="473.3" cy="270" r="4.4" fill="url(#g_cyan)"/><circle cx="479.8" cy="245" r="4.4" fill="url(#g_cyan)"/><circle cx="480.5" cy="239.4" r="4.4" fill="url(#g_cyan)"/><circle cx="481.1" cy="233.8" r="4.4" fill="url(#g_cyan)"/><circle cx="481.8" cy="228.2" r="4.4" fill="url(#g_cyan)"/><circle cx="482.5" cy="222.6" r="4.4" fill="url(#g_cyan)"/><circle cx="483.1" cy="217" r="4.4" fill="url(#g_cyan)"/><circle cx="483.8" cy="211.4" r="4.4" fill="url(#g_cyan)"/><circle cx="484.4" cy="205.8" r="4.4" fill="url(#g_cyan)"/><circle cx="485.1" cy="200.2" r="4.4" fill="url(#g_cyan)"/><circle cx="485.2" cy="195.1" r="4.4" fill="url(#g_cyan)"/><circle cx="485.3" cy="190.7" r="4.4" fill="url(#g_cyan)"/><circle cx="485.4" cy="186.5" r="4.4" fill="url(#g_cyan)"/><circle cx="485.5" cy="182.5" r="4.4" fill="url(#g_cyan)"/><circle cx="485.6" cy="178.6" r="4.4" fill="url(#g_cyan)"/><circle cx="485.6" cy="174.7" r="4.4" fill="url(#g_cyan)"/><circle cx="485.7" cy="170.9" r="4.4" fill="url(#g_cyan)"/><circle cx="485.8" cy="167.2" r="4.4" fill="url(#g_cyan)"/><circle cx="485.9" cy="163.5" r="4.4" fill="url(#g_cyan)"/><circle cx="486" cy="159.8" r="4.4" fill="url(#g_cyan)"/><circle cx="486.1" cy="156.2" r="4.4" fill="url(#g_cyan)"/><circle cx="486.2" cy="152.6" r="4.4" fill="url(#g_cyan)"/><circle cx="486.3" cy="149" r="4.4" fill="url(#g_cyan)"/><circle cx="486.4" cy="145.5" r="4.4" fill="url(#g_cyan)"/><circle cx="486.5" cy="147.3" r="4.4" fill="url(#g_cyan)"/><circle cx="486.6" cy="149.3" r="4.4" fill="url(#g_cyan)"/><circle cx="486.7" cy="151.4" r="4.4" fill="url(#g_cyan)"/><circle cx="486.8" cy="153.7" r="4.4" fill="url(#g_cyan)"/><circle cx="486.9" cy="155.9" r="4.4" fill="url(#g_cyan)"/><circle cx="487" cy="158.2" r="4.4" fill="url(#g_cyan)"/><circle cx="487.1" cy="160.6" r="4.4" fill="url(#g_cyan)"/><circle cx="487.2" cy="163" r="4.4" fill="url(#g_cyan)"/><circle cx="487.2" cy="165.4" r="4.4" fill="url(#g_cyan)"/><circle cx="487.3" cy="167.9" r="4.4" fill="url(#g_cyan)"/><circle cx="487.4" cy="170.3" r="4.4" fill="url(#g_cyan)"/><circle cx="487.5" cy="172.8" r="4.4" fill="url(#g_cyan)"/><circle cx="487.6" cy="175.3" r="4.4" fill="url(#g_cyan)"/><circle cx="487.7" cy="177.9" r="4.4" fill="url(#g_cyan)"/><circle cx="488.4" cy="190" r="4.4" fill="url(#g_cyan)"/><circle cx="489" cy="202.2" r="4.4" fill="url(#g_cyan)"/><circle cx="489.7" cy="214.3" r="4.4" fill="url(#g_cyan)"/><circle cx="490.3" cy="226.4" r="4.4" fill="url(#g_cyan)"/><circle cx="491" cy="238.6" r="4.4" fill="url(#g_cyan)"/><circle cx="491.7" cy="250.7" r="4.4" fill="url(#g_cyan)"/><circle cx="492.3" cy="262.9" r="4.4" fill="url(#g_cyan)"/><circle cx="493" cy="275" r="4.4" fill="url(#g_cyan)"/><circle cx="499.5" cy="318" r="4.4" fill="url(#g_cyan)"/><circle cx="506.1" cy="352" r="4.4" fill="url(#g_cyan)"/><circle cx="512.7" cy="380" r="4.4" fill="url(#g_cyan)"/><circle cx="519.2" cy="405" r="4.4" fill="url(#g_cyan)"/><circle cx="525.8" cy="426" r="4.4" fill="url(#g_cyan)"/><circle cx="532.4" cy="438" r="4.4" fill="url(#g_cyan)"/><circle cx="539" cy="446" r="4.4" fill="url(#g_cyan)"/><circle cx="545.5" cy="452" r="4.4" fill="url(#g_cyan)"/><circle cx="552.1" cy="454" r="4.4" fill="url(#g_cyan)"/><circle cx="552.1" cy="458" r="4.4" fill="url(#g_cyan)"/><circle cx="568.5" cy="460.2" r="4.4" fill="url(#g_cyan)"/><circle cx="585" cy="461.7" r="4.4" fill="url(#g_cyan)"/><circle cx="601.4" cy="462.3" r="4.4" fill="url(#g_cyan)"/><circle cx="617.8" cy="463.2" r="4.4" fill="url(#g_cyan)"/><circle cx="634.2" cy="464.1" r="4.4" fill="url(#g_cyan)"/><circle cx="650.6" cy="465" r="4.4" fill="url(#g_cyan)"/><circle cx="667.1" cy="466" r="4.4" fill="url(#g_cyan)"/><circle cx="683.5" cy="467" r="4.4" fill="url(#g_cyan)"/><circle cx="699.9" cy="467.5" r="4.4" fill="url(#g_cyan)"/><circle cx="716.4" cy="468" r="4.4" fill="url(#g_cyan)"/><circle cx="732.8" cy="468.5" r="4.4" fill="url(#g_cyan)"/><circle cx="749.2" cy="469" r="4.4" fill="url(#g_cyan)"/><circle cx="765.6" cy="469.2" r="4.4" fill="url(#g_cyan)"/><circle cx="782" cy="469.5" r="4.4" fill="url(#g_cyan)"/><circle cx="798.5" cy="469.8" r="4.4" fill="url(#g_cyan)"/><circle cx="814.9" cy="470" r="4.4" fill="url(#g_cyan)"/><path d="M229.2 366.9L231.1 367.1M242.3 369.1L244.3 369.4M255.5 371.4L257.4 371.6M268.7 372.9L270.5 373M281.8 373L283.6 372.9M294.9 371.4L296.8 371.1M308 368.6L310.1 368.1M321.1 365.2L323.2 364.7M334.1 361.4L336.5 360.6M347.4 357.5L349.4 357.1M360.5 354.3L362.6 353.8M373.7 350.9L375.8 350.4M386.9 347.8L388.8 347.4M399.9 344.7L402.1 344.2M413.1 341.6L415.1 341.1M474.9 275L476.8 268.8M488 190.2L488.1 194M488.6 205.4L488.8 209.2M489.3 220.6L489.4 224.4M489.9 235.8L490.1 239.6M490.6 250.9L490.8 254.7M491.2 266.1L491.4 269.9M491.9 281.3L492.1 285.1M492.6 296.5L492.7 300.3M495 322.3L498.8 349.8M500.6 361L503.7 377.1M505.8 388.3L509 406.4M511.3 417.6L514.1 430.4M557.5 417.5L559.9 416.7M570.7 413.2L572.9 412.7M584 410L585.9 409.6M597 407L599.1 406.5M610.2 403.6L612.3 403.1M623.4 400.3L625.4 399.9M636.3 396.8L638.7 396M649.6 392.7L651.7 392.2M662.7 389.3L664.8 388.8M676 386.3L677.9 385.9M689.2 384.4L691 384.2M702.3 383.9L704.1 383.9M715.5 384.2L717.2 384.3M728.6 384.9L730.4 385.1M741.7 385.9L743.5 386.1" stroke="#ff00ff" stroke-width="1.2" fill="none"/><path d="M229.3 373.9L231.1 374.1M242.4 374.9L244.2 375.1M255.6 375.7L257.3 375.8M268.7 376.1L270.5 376.1M281.8 375.8L283.6 375.6M294.9 374.1L296.8 373.7M308 371.2L310.1 370.7M321.1 367.8L323.2 367.3M334.1 364L336.5 363.2M347.4 360.1L349.4 359.7M360.5 356.9L362.6 356.4M373.7 353.5L375.8 353M386.9 350.4L388.8 350M399.9 347.3L402.1 346.8M412.9 343.3L415.3 342.5M458.7 329.6L461.5 342.4M463.8 353.6L467 371.7M469.1 382.9L472.2 399M474 410.2L477.8 437.7M496 491.2L497.9 485M557.7 418.9L559.7 418.4M570.7 415.8L572.9 415.3M584 412.6L585.9 412.2M597 409.6L599.1 409.1M610.2 406.2L612.3 405.7M623.4 402.9L625.4 402.5M636.3 399.4L638.7 398.6M649.6 395.3L651.7 394.8M662.7 391.9L664.8 391.4M676 388.9L677.9 388.6M689.2 387.1L691 387M702.3 387L704.1 387.1M715.4 388.4L717.3 388.6M728.5 390.6L730.5 390.9M741.7 392.9L743.6 393.1" stroke="#ff00ff" stroke-width="1.2" fill="none"/><circle cx="223.6" cy="366" r="4.4" fill="url(#g_magenta)"/><circle cx="236.7" cy="368" r="4.4" fill="url(#g_magenta)"/><circle cx="249.9" cy="370.5" r="4.4" fill="url(#g_magenta)"/><circle cx="263" cy="372.5" r="4.4" fill="url(#g_magenta)"/><circle cx="276.2" cy="373.4" r="4.4" fill="url(#g_magenta)"/><circle cx="289.3" cy="372.5" r="4.4" fill="url(#g_magenta)"/><circle cx="302.4" cy="370" r="4.4" fill="url(#g_magenta)"/><circle cx="315.6" cy="366.7" r="4.4" fill="url(#g_magenta)"/><circle cx="328.7" cy="363.2" r="4.4" fill="url(#g_magenta)"/><circle cx="341.9" cy="358.8" r="4.4" fill="url(#g_magenta)"/><circle cx="355" cy="355.8" r="4.4" fill="url(#g_magenta)"/><circle cx="368.1" cy="352.3" r="4.4" fill="url(#g_magenta)"/><circle cx="381.3" cy="349" r="4.4" fill="url(#g_magenta)"/><circle cx="394.4" cy="346.2" r="4.4" fill="url(#g_magenta)"/><circle cx="407.6" cy="342.7" r="4.4" fill="url(#g_magenta)"/><circle cx="420.7" cy="340" r="4.4" fill="url(#g_magenta)"/><circle cx="420.7" cy="338" r="4.4" fill="url(#g_magenta)"/><circle cx="426" cy="335" r="4.4" fill="url(#g_magenta)"/><circle cx="431.2" cy="332" r="4.4" fill="url(#g_magenta)"/><circle cx="436.5" cy="328.4" r="4.4" fill="url(#g_magenta)"/><circle cx="441.7" cy="323.4" r="4.4" fill="url(#g_magenta)"/><circle cx="447" cy="317.5" r="4.4" fill="url(#g_magenta)"/><circle cx="452.2" cy="311.7" r="4.4" fill="url(#g_magenta)"/><circle cx="457.5" cy="305" r="4.4" fill="url(#g_magenta)"/><circle cx="462.7" cy="296.8" r="4.4" fill="url(#g_magenta)"/><circle cx="468" cy="288.1" r="4.4" fill="url(#g_magenta)"/><circle cx="473.3" cy="280.4" r="4.4" fill="url(#g_magenta)"/><circle cx="478.5" cy="263.3" r="4.4" fill="url(#g_magenta)"/><circle cx="479.8" cy="255" r="4.4" fill="url(#g_magenta)"/><circle cx="480.5" cy="248.8" r="4.4" fill="url(#g_magenta)"/><circle cx="481.1" cy="242.5" r="4.4" fill="url(#g_magenta)"/><circle cx="481.8" cy="236.3" r="4.4" fill="url(#g_magenta)"/><circle cx="482.5" cy="230" r="4.4" fill="url(#g_magenta)"/><circle cx="483.1" cy="223.8" r="4.4" fill="url(#g_magenta)"/><circle cx="483.8" cy="217.5" r="4.4" fill="url(#g_magenta)"/><circle cx="484.4" cy="211.3" r="4.4" fill="url(#g_magenta)"/><circle cx="485.1" cy="205.1" r="4.4" fill="url(#g_magenta)"/><circle cx="485.2" cy="199.4" r="4.4" fill="url(#g_magenta)"/><circle cx="485.3" cy="194.5" r="4.4" fill="url(#g_magenta)"/><circle cx="485.4" cy="189.8" r="4.4" fill="url(#g_magenta)"/><circle cx="485.5" cy="185.3" r="4.4" fill="url(#g_magenta)"/><circle cx="485.6" cy="180.9" r="4.4" fill="url(#g_magenta)"/><circle cx="485.6" cy="176.6" r="4.4" fill="url(#g_magenta)"/><circle cx="485.7" cy="172.3" r="4.4" fill="url(#g_magenta)"/><circle cx="485.8" cy="168.2" r="4.4" fill="url(#g_magenta)"/><circle cx="485.9" cy="164" r="4.4" fill="url(#g_magenta)"/><circle cx="486" cy="160" r="4.4" fill="url(#g_magenta)"/><circle cx="486.1" cy="155.9" r="4.4" fill="url(#g_magenta)"/><circle cx="486.2" cy="151.9" r="4.4" fill="url(#g_magenta)"/><circle cx="486.3" cy="147.9" r="4.4" fill="url(#g_magenta)"/><circle cx="486.4" cy="144" r="4.4" fill="url(#g_magenta)"/><circle cx="486.5" cy="146.2" r="4.4" fill="url(#g_magenta)"/><circle cx="486.6" cy="148.8" r="4.4" fill="url(#g_magenta)"/><circle cx="486.7" cy="151.4" r="4.4" fill="url(#g_magenta)"/><circle cx="486.8" cy="154.2" r="4.4" fill="url(#g_magenta)"/><circle cx="486.9" cy="157" r="4.4" fill="url(#g_magenta)"/><circle cx="487" cy="159.9" r="4.4" fill="url(#g_magenta)"/><circle cx="487.1" cy="162.9" r="4.4" fill="url(#g_magenta)"/><circle cx="487.2" cy="165.9" r="4.4" fill="url(#g_magenta)"/><circle cx="487.2" cy="168.9" r="4.4" fill="url(#g_magenta)"/><circle cx="487.3" cy="172" r="4.4" fill="url(#g_magenta)"/><circle cx="487.4" cy="175.1" r="4.4" fill="url(#g_magenta)"/><circle cx="487.5" cy="178.2" r="4.4" fill="url(#g_magenta)"/><circle cx="487.6" cy="181.3" r="4.4" fill="url(#g_magenta)"/><circle cx="487.7" cy="184.5" r="4.4" fill="url(#g_magenta)"/><circle cx="488.4" cy="199.7" r="4.4" fill="url(#g_magenta)"/><circle cx="489" cy="214.9" r="4.4" fill="url(#g_magenta)"/><circle cx="489.7" cy="230.1" r="4.4" fill="url(#g_magenta)"/><circle cx="490.3" cy="245.2" r="4.4" fill="url(#g_magenta)"/><circle cx="491" cy="260.4" r="4.4" fill="url(#g_magenta)"/><circle cx="491.7" cy="275.6" r="4.4" fill="url(#g_magenta)"/><circle cx="492.3" cy="290.8" r="4.4" fill="url(#g_magenta)"/><circle cx="493" cy="306" r="4.4" fill="url(#g_magenta)"/><circle cx="494.3" cy="316.7" r="4.4" fill="url(#g_magenta)"/><circle cx="499.5" cy="355.4" r="4.4" fill="url(#g_magenta)"/><circle cx="504.8" cy="382.7" r="4.4" fill="url(#g_magenta)"/><circle cx="510.1" cy="412" r="4.4" fill="url(#g_magenta)"/><circle cx="515.3" cy="436" r="4.4" fill="url(#g_magenta)"/><circle cx="520.6" cy="444" r="4.4" fill="url(#g_magenta)"/><circle cx="525.8" cy="440" r="4.4" fill="url(#g_magenta)"/><circle cx="531.1" cy="434.5" r="4.4" fill="url(#g_magenta)"/><circle cx="536.3" cy="429.5" r="4.4" fill="url(#g_magenta)"/><circle cx="541.6" cy="425.5" r="4.4" fill="url(#g_magenta)"/><circle cx="546.8" cy="422.5" r="4.4" fill="url(#g_magenta)"/><circle cx="552.1" cy="417.5" r="4.4" fill="url(#g_magenta)"/><circle cx="552.1" cy="419.5" r="4.4" fill="url(#g_magenta)"/><circle cx="565.2" cy="414.7" r="4.4" fill="url(#g_magenta)"/><circle cx="578.4" cy="411.2" r="4.4" fill="url(#g_magenta)"/><circle cx="591.5" cy="408.4" r="4.4" fill="url(#g_magenta)"/><circle cx="604.7" cy="405.1" r="4.4" fill="url(#g_magenta)"/><circle cx="617.8" cy="401.6" r="4.4" fill="url(#g_magenta)"/><circle cx="630.9" cy="398.6" r="4.4" fill="url(#g_magenta)"/><circle cx="644.1" cy="394.2" r="4.4" fill="url(#g_magenta)"/><circle cx="657.2" cy="390.7" r="4.4" fill="url(#g_magenta)"/><circle cx="670.4" cy="387.4" r="4.4" fill="url(#g_magenta)"/><circle cx="683.5" cy="384.8" r="4.4" fill="url(#g_magenta)"/><circle cx="696.6" cy="383.8" r="4.4" fill="url(#g_magenta)"/><circle cx="709.8" cy="384" r="4.4" fill="url(#g_magenta)"/><circle cx="722.9" cy="384.5" r="4.4" fill="url(#g_magenta)"/><circle cx="736.1" cy="385.5" r="4.4" fill="url(#g_magenta)"/><circle cx="749.2" cy="386.5" r="4.4" fill="url(#g_magenta)"/><circle cx="223.6" cy="373.5" r="4.4" fill="url(#g_magenta)"/><circle cx="236.7" cy="374.5" r="4.4" fill="url(#g_magenta)"/><circle cx="249.9" cy="375.5" r="4.4" fill="url(#g_magenta)"/><circle cx="263" cy="376" r="4.4" fill="url(#g_magenta)"/><circle cx="276.2" cy="376.2" r="4.4" fill="url(#g_magenta)"/><circle cx="289.3" cy="375.2" r="4.4" fill="url(#g_magenta)"/><circle cx="302.4" cy="372.6" r="4.4" fill="url(#g_magenta)"/><circle cx="315.6" cy="369.3" r="4.4" fill="url(#g_magenta)"/><circle cx="328.7" cy="365.8" r="4.4" fill="url(#g_magenta)"/><circle cx="341.9" cy="361.4" r="4.4" fill="url(#g_magenta)"/><circle cx="355" cy="358.4" r="4.4" fill="url(#g_magenta)"/><circle cx="368.1" cy="354.9" r="4.4" fill="url(#g_magenta)"/><circle cx="381.3" cy="351.6" r="4.4" fill="url(#g_magenta)"/><circle cx="394.4" cy="348.8" r="4.4" fill="url(#g_magenta)"/><circle cx="407.6" cy="345.3" r="4.4" fill="url(#g_magenta)"/><circle cx="420.7" cy="340.5" r="4.4" fill="url(#g_magenta)"/><circle cx="420.7" cy="342.5" r="4.4" fill="url(#g_magenta)"/><circle cx="426" cy="337.5" r="4.4" fill="url(#g_magenta)"/><circle cx="431.2" cy="334.5" r="4.4" fill="url(#g_magenta)"/><circle cx="436.5" cy="330.5" r="4.4" fill="url(#g_magenta)"/><circle cx="441.7" cy="325.5" r="4.4" fill="url(#g_magenta)"/><circle cx="447" cy="320" r="4.4" fill="url(#g_magenta)"/><circle cx="452.2" cy="316" r="4.4" fill="url(#g_magenta)"/><circle cx="457.5" cy="324" r="4.4" fill="url(#g_magenta)"/><circle cx="462.7" cy="348" r="4.4" fill="url(#g_magenta)"/><circle cx="468" cy="377.3" r="4.4" fill="url(#g_magenta)"/><circle cx="473.3" cy="404.6" r="4.4" fill="url(#g_magenta)"/><circle cx="478.5" cy="443.3" r="4.4" fill="url(#g_magenta)"/><circle cx="479.8" cy="454" r="4.4" fill="url(#g_magenta)"/><circle cx="480.5" cy="463.1" r="4.4" fill="url(#g_magenta)"/><circle cx="481.1" cy="472.2" r="4.4" fill="url(#g_magenta)"/><circle cx="481.8" cy="481.3" r="4.4" fill="url(#g_magenta)"/><circle cx="482.5" cy="490.3" r="4.4" fill="url(#g_magenta)"/><circle cx="483.1" cy="499.4" r="4.4" fill="url(#g_magenta)"/><circle cx="483.8" cy="508.5" r="4.4" fill="url(#g_magenta)"/><circle cx="484.4" cy="517.6" r="4.4" fill="url(#g_magenta)"/><circle cx="485.1" cy="526.7" r="4.4" fill="url(#g_magenta)"/><circle cx="485.2" cy="534.9" r="4.4" fill="url(#g_magenta)"/><circle cx="485.3" cy="542.1" r="4.4" fill="url(#g_magenta)"/><circle cx="485.4" cy="548.9" r="4.4" fill="url(#g_magenta)"/><circle cx="485.5" cy="555.4" r="4.4" fill="url(#g_magenta)"/><circle cx="485.6" cy="561.8" r="4.4" fill="url(#g_magenta)"/><circle cx="485.6" cy="568.1" r="4.4" fill="url(#g_magenta)"/><circle cx="485.7" cy="574.3" r="4.4" fill="url(#g_magenta)"/><circle cx="485.8" cy="580.4" r="4.4" fill="url(#g_magenta)"/><circle cx="485.9" cy="586.4" r="4.4" fill="url(#g_magenta)"/><circle cx="486" cy="592.3" r="4.4" fill="url(#g_magenta)"/><circle cx="486.1" cy="598.2" r="4.4" fill="url(#g_magenta)"/><circle cx="486.2" cy="604" r="4.4" fill="url(#g_magenta)"/><circle cx="486.3" cy="609.8" r="4.4" fill="url(#g_magenta)"/><circle cx="486.4" cy="615.5" r="4.4" fill="url(#g_magenta)"/><circle cx="486.5" cy="614" r="4.4" fill="url(#g_magenta)"/><circle cx="486.6" cy="612.3" r="4.4" fill="url(#g_magenta)"/><circle cx="486.7" cy="610.4" r="4.4" fill="url(#g_magenta)"/><circle cx="486.8" cy="608.5" r="4.4" fill="url(#g_magenta)"/><circle cx="486.9" cy="606.6" r="4.4" fill="url(#g_magenta)"/><circle cx="487" cy="604.6" r="4.4" fill="url(#g_magenta)"/><circle cx="487.1" cy="602.6" r="4.4" fill="url(#g_magenta)"/><circle cx="487.2" cy="600.6" r="4.4" fill="url(#g_magenta)"/><circle cx="487.2" cy="598.5" r="4.4" fill="url(#g_magenta)"/><circle cx="487.3" cy="596.4" r="4.4" fill="url(#g_magenta)"/><circle cx="487.4" cy="594.3" r="4.4" fill="url(#g_magenta)"/><circle cx="487.5" cy="592.2" r="4.4" fill="url(#g_magenta)"/><circle cx="487.6" cy="590" r="4.4" fill="url(#g_magenta)"/><circle cx="487.7" cy="587.9" r="4.4" fill="url(#g_magenta)"/><circle cx="488.4" cy="577.5" r="4.4" fill="url(#g_magenta)"/><circle cx="489" cy="567.2" r="4.4" fill="url(#g_magenta)"/><circle cx="489.7" cy="556.8" r="4.4" fill="url(#g_magenta)"/><circle cx="490.3" cy="546.4" r="4.4" fill="url(#g_magenta)"/><circle cx="491" cy="536.1" r="4.4" fill="url(#g_magenta)"/><circle cx="491.7" cy="525.7" r="4.4" fill="url(#g_magenta)"/><circle cx="492.3" cy="515.4" r="4.4" fill="url(#g_magenta)"/><circle cx="493" cy="505" r="4.4" fill="url(#g_magenta)"/><circle cx="494.3" cy="496.7" r="4.4" fill="url(#g_magenta)"/><circle cx="499.5" cy="479.6" r="4.4" fill="url(#g_magenta)"/><circle cx="504.8" cy="471.9" r="4.4" fill="url(#g_magenta)"/><circle cx="510.1" cy="463.2" r="4.4" fill="url(#g_magenta)"/><circle cx="515.3" cy="455" r="4.4" fill="url(#g_magenta)"/><circle cx="520.6" cy="448.3" r="4.4" fill="url(#g_magenta)"/><circle cx="525.8" cy="442.5" r="4.4" fill="url(#g_magenta)"/><circle cx="531.1" cy="436.6" r="4.4" fill="url(#g_magenta)"/><circle cx="536.3" cy="431.6" r="4.4" fill="url(#g_magenta)"/><circle cx="541.6" cy="428" r="4.4" fill="url(#g_magenta)"/><circle cx="546.8" cy="425" r="4.4" fill="url(#g_magenta)"/><circle cx="552.1" cy="422" r="4.4" fill="url(#g_magenta)"/><circle cx="552.1" cy="420" r="4.4" fill="url(#g_magenta)"/><circle cx="565.2" cy="417.3" r="4.4" fill="url(#g_magenta)"/><circle cx="578.4" cy="413.8" r="4.4" fill="url(#g_magenta)"/><circle cx="591.5" cy="411" r="4.4" fill="url(#g_magenta)"/><circle cx="604.7" cy="407.7" r="4.4" fill="url(#g_magenta)"/><circle cx="617.8" cy="404.2" r="4.4" fill="url(#g_magenta)"/><circle cx="630.9" cy="401.2" r="4.4" fill="url(#g_magenta)"/><circle cx="644.1" cy="396.8" r="4.4" fill="url(#g_magenta)"/><circle cx="657.2" cy="393.3" r="4.4" fill="url(#g_magenta)"/><circle cx="670.4" cy="390" r="4.4" fill="url(#g_magenta)"/><circle cx="683.5" cy="387.5" r="4.4" fill="url(#g_magenta)"/><circle cx="696.6" cy="386.6" r="4.4" fill="url(#g_magenta)"/><circle cx="709.8" cy="387.5" r="4.4" fill="url(#g_magenta)"/><circle cx="722.9" cy="389.5" r="4.4" fill="url(#g_magenta)"/><circle cx="736.1" cy="392" r="4.4" fill="url(#g_magenta)"/><circle cx="749.2" cy="394" r="4.4" fill="url(#g_magenta)"/><path d="M163.6 376.5L168.6 376.6M180 377.1L185.1 377.5M196.4 378.8L201.6 379.7M212.9 380.5L217.9 380.2M229.3 379.8L234.3 379.5M245.7 379L250.8 378.7M262.1 377.9L267.2 377.5M278.6 376.6L283.6 376.1M295 375.4L300 375.2M311.4 374.4L316.5 373.9M327.8 372.9L332.9 372.4M344.2 371.2L349.3 370.6M360.6 368.6L365.9 367.4M376.9 364.6L382.3 363.2M393.3 360L398.8 358.4M409.7 355L415.2 353.4M462.8 314.6L464 312.3M469.3 302.2L470.7 299.5M475.6 289.2L477.5 285.2M487.9 209.2L488.2 216M488.6 227.4L488.8 234.2M489.2 245.6L489.5 252.4M489.9 263.8L490.1 270.6M490.5 281.9L490.8 288.7M491.2 300.1L491.5 306.9M491.9 318.3L492.1 325.1M492.5 336.5L492.8 343.3M494.3 354.5L498.2 371.5M501.3 382.4L504.3 391.6M507.6 402.5L511.2 415.5M557.2 405.6L563.4 402.6M574 398.6L579.5 396.9M590.5 393.9L595.9 392.4M606.9 389.8L612.2 388.7M623.5 386.9L628.6 386.4M639.9 385.1L645 384.6M656.3 383.6L661.4 383.2M672.8 382.3L677.8 381.9M689.2 381.2L694.2 380.8M705.6 380.2L710.7 379.8M722 379.3L727.1 379.1M738.5 378.6L743.5 378.4M754.9 378.1L759.9 378.1M771.3 378.7L776.4 379.3M787.7 380.3L792.8 380.5M804.2 381L809.2 381.2" stroke="#000080" stroke-width="1.2" fill="none"/><path d="M163.6 378.8L168.6 379M180 379.5L185.1 379.7M196.4 380.7L201.5 381.3M212.9 381.9L217.9 381.9M229.3 381.6L234.3 381.4M245.7 380.9L250.8 380.7M262.1 380.2L267.2 379.8M278.6 379.2L283.6 378.8M295 378.1L300 377.7M311.4 376.8L316.5 376.4M327.8 375.4L332.9 374.9M344.2 373.6L349.3 373.1M360.6 371.3L365.9 370.2M376.9 367.6L382.3 366.1M393.3 363.1L398.8 361.4M409.4 357.4L415.6 354.4M461.6 344.5L465.2 357.5M468.5 368.4L471.5 377.6M474.6 388.5L478.5 405.5M495.3 474.8L497.2 470.8M502.1 460.5L503.5 457.8M508.8 447.7L510 445.4M557.6 406.6L563.1 405M574 401.6L579.5 400M590.5 396.8L595.9 395.4M606.9 392.6L612.2 391.4M623.5 389.4L628.6 388.8M639.9 387.6L645 387.1M656.3 386.1L661.4 385.6M672.8 384.8L677.8 384.6M689.2 383.9L694.2 383.4M705.6 382.5L710.7 382.1M722 381.3L727.1 381M738.5 380.5L743.5 380.2M754.9 379.8L759.9 379.5M771.2 380.3L776.4 381.2M787.7 382.5L792.8 382.9M804.2 383.4L809.2 383.5" stroke="#000080" stroke-width="1.2" fill="none"/><circle cx="157.9" cy="376.3" r="4.4" fill="url(#g_navy)"/><circle cx="174.3" cy="376.8" r="4.4" fill="url(#g_navy)"/><circle cx="190.7" cy="377.8" r="4.4" fill="url(#g_navy)"/><circle cx="207.2" cy="380.7" r="4.4" fill="url(#g_navy)"/><circle cx="223.6" cy="380" r="4.4" fill="url(#g_navy)"/><circle cx="240" cy="379.3" r="4.4" fill="url(#g_navy)"/><circle cx="256.4" cy="378.4" r="4.4" fill="url(#g_navy)"/><circle cx="272.9" cy="377" r="4.4" fill="url(#g_navy)"/><circle cx="289.3" cy="375.7" r="4.4" fill="url(#g_navy)"/><circle cx="305.7" cy="374.9" r="4.4" fill="url(#g_navy)"/><circle cx="322.1" cy="373.4" r="4.4" fill="url(#g_navy)"/><circle cx="338.6" cy="371.9" r="4.4" fill="url(#g_navy)"/><circle cx="355" cy="369.9" r="4.4" fill="url(#g_navy)"/><circle cx="371.4" cy="366.1" r="4.4" fill="url(#g_navy)"/><circle cx="387.8" cy="361.7" r="4.4" fill="url(#g_navy)"/><circle cx="404.3" cy="356.7" r="4.4" fill="url(#g_navy)"/><circle cx="420.7" cy="351.7" r="4.4" fill="url(#g_navy)"/><circle cx="420.7" cy="348.7" r="4.4" fill="url(#g_navy)"/><circle cx="427.3" cy="346" r="4.4" fill="url(#g_navy)"/><circle cx="433.8" cy="343" r="4.4" fill="url(#g_navy)"/><circle cx="440.4" cy="339.5" r="4.4" fill="url(#g_navy)"/><circle cx="447" cy="333.7" r="4.4" fill="url(#g_navy)"/><circle cx="453.5" cy="328.4" r="4.4" fill="url(#g_navy)"/><circle cx="460.1" cy="319.6" r="4.4" fill="url(#g_navy)"/><circle cx="466.7" cy="307.3" r="4.4" fill="url(#g_navy)"/><circle cx="473.3" cy="294.4" r="4.4" fill="url(#g_navy)"/><circle cx="479.8" cy="280" r="4.4" fill="url(#g_navy)"/><circle cx="480.5" cy="273" r="4.4" fill="url(#g_navy)"/><circle cx="481.1" cy="265.9" r="4.4" fill="url(#g_navy)"/><circle cx="481.8" cy="258.9" r="4.4" fill="url(#g_navy)"/><circle cx="482.5" cy="251.9" r="4.4" fill="url(#g_navy)"/><circle cx="483.1" cy="244.8" r="4.4" fill="url(#g_navy)"/><circle cx="483.8" cy="237.8" r="4.4" fill="url(#g_navy)"/><circle cx="484.4" cy="230.8" r="4.4" fill="url(#g_navy)"/><circle cx="485.1" cy="223.8" r="4.4" fill="url(#g_navy)"/><circle cx="485.2" cy="217.4" r="4.4" fill="url(#g_navy)"/><circle cx="485.3" cy="211.8" r="4.4" fill="url(#g_navy)"/><circle cx="485.4" cy="206.6" r="4.4" fill="url(#g_navy)"/><circle cx="485.5" cy="201.5" r="4.4" fill="url(#g_navy)"/><circle cx="485.6" cy="196.5" r="4.4" fill="url(#g_navy)"/><circle cx="485.6" cy="191.7" r="4.4" fill="url(#g_navy)"/><circle cx="485.7" cy="186.9" r="4.4" fill="url(#g_navy)"/><circle cx="485.8" cy="182.2" r="4.4" fill="url(#g_navy)"/><circle cx="485.9" cy="177.6" r="4.4" fill="url(#g_navy)"/><circle cx="486" cy="173" r="4.4" fill="url(#g_navy)"/><circle cx="486.1" cy="168.4" r="4.4" fill="url(#g_navy)"/><circle cx="486.2" cy="163.9" r="4.4" fill="url(#g_navy)"/><circle cx="486.3" cy="159.4" r="4.4" fill="url(#g_navy)"/><circle cx="486.4" cy="155" r="4.4" fill="url(#g_navy)"/><circle cx="486.5" cy="157.7" r="4.4" fill="url(#g_navy)"/><circle cx="486.6" cy="160.7" r="4.4" fill="url(#g_navy)"/><circle cx="486.7" cy="163.9" r="4.4" fill="url(#g_navy)"/><circle cx="486.8" cy="167.2" r="4.4" fill="url(#g_navy)"/><circle cx="486.9" cy="170.6" r="4.4" fill="url(#g_navy)"/><circle cx="487" cy="174.1" r="4.4" fill="url(#g_navy)"/><circle cx="487.1" cy="177.6" r="4.4" fill="url(#g_navy)"/><circle cx="487.2" cy="181.2" r="4.4" fill="url(#g_navy)"/><circle cx="487.2" cy="184.8" r="4.4" fill="url(#g_navy)"/><circle cx="487.3" cy="188.5" r="4.4" fill="url(#g_navy)"/><circle cx="487.4" cy="192.2" r="4.4" fill="url(#g_navy)"/><circle cx="487.5" cy="195.9" r="4.4" fill="url(#g_navy)"/><circle cx="487.6" cy="199.7" r="4.4" fill="url(#g_navy)"/><circle cx="487.7" cy="203.5" r="4.4" fill="url(#g_navy)"/><circle cx="488.4" cy="221.7" r="4.4" fill="url(#g_navy)"/><circle cx="489" cy="239.9" r="4.4" fill="url(#g_navy)"/><circle cx="489.7" cy="258.1" r="4.4" fill="url(#g_navy)"/><circle cx="490.3" cy="276.2" r="4.4" fill="url(#g_navy)"/><circle cx="491" cy="294.4" r="4.4" fill="url(#g_navy)"/><circle cx="491.7" cy="312.6" r="4.4" fill="url(#g_navy)"/><circle cx="492.3" cy="330.8" r="4.4" fill="url(#g_navy)"/><circle cx="493" cy="349" r="4.4" fill="url(#g_navy)"/><circle cx="499.5" cy="377" r="4.4" fill="url(#g_navy)"/><circle cx="506.1" cy="397" r="4.4" fill="url(#g_navy)"/><circle cx="512.7" cy="421" r="4.4" fill="url(#g_navy)"/><circle cx="519.2" cy="425.2" r="4.4" fill="url(#g_navy)"/><circle cx="525.8" cy="422.2" r="4.4" fill="url(#g_navy)"/><circle cx="532.4" cy="415.8" r="4.4" fill="url(#g_navy)"/><circle cx="539" cy="413.3" r="4.4" fill="url(#g_navy)"/><circle cx="545.5" cy="410.5" r="4.4" fill="url(#g_navy)"/><circle cx="552.1" cy="405" r="4.4" fill="url(#g_navy)"/><circle cx="552.1" cy="408" r="4.4" fill="url(#g_navy)"/><circle cx="568.5" cy="400.2" r="4.4" fill="url(#g_navy)"/><circle cx="585" cy="395.3" r="4.4" fill="url(#g_navy)"/><circle cx="601.4" cy="391" r="4.4" fill="url(#g_navy)"/><circle cx="617.8" cy="387.5" r="4.4" fill="url(#g_navy)"/><circle cx="634.2" cy="385.8" r="4.4" fill="url(#g_navy)"/><circle cx="650.6" cy="384" r="4.4" fill="url(#g_navy)"/><circle cx="667.1" cy="382.8" r="4.4" fill="url(#g_navy)"/><circle cx="683.5" cy="381.5" r="4.4" fill="url(#g_navy)"/><circle cx="699.9" cy="380.5" r="4.4" fill="url(#g_navy)"/><circle cx="716.4" cy="379.5" r="4.4" fill="url(#g_navy)"/><circle cx="732.8" cy="378.9" r="4.4" fill="url(#g_navy)"/><circle cx="749.2" cy="378.2" r="4.4" fill="url(#g_navy)"/><circle cx="765.6" cy="378" r="4.4" fill="url(#g_navy)"/><circle cx="782" cy="380" r="4.4" fill="url(#g_navy)"/><circle cx="798.5" cy="380.8" r="4.4" fill="url(#g_navy)"/><circle cx="814.9" cy="381.5" r="4.4" fill="url(#g_navy)"/><circle cx="157.9" cy="378.5" r="4.4" fill="url(#g_navy)"/><circle cx="174.3" cy="379.2" r="4.4" fill="url(#g_navy)"/><circle cx="190.7" cy="380" r="4.4" fill="url(#g_navy)"/><circle cx="207.2" cy="382" r="4.4" fill="url(#g_navy)"/><circle cx="223.6" cy="381.8" r="4.4" fill="url(#g_navy)"/><circle cx="240" cy="381.1" r="4.4" fill="url(#g_navy)"/><circle cx="256.4" cy="380.5" r="4.4" fill="url(#g_navy)"/><circle cx="272.9" cy="379.5" r="4.4" fill="url(#g_navy)"/><circle cx="289.3" cy="378.5" r="4.4" fill="url(#g_navy)"/><circle cx="305.7" cy="377.2" r="4.4" fill="url(#g_navy)"/><circle cx="322.1" cy="376" r="4.4" fill="url(#g_navy)"/><circle cx="338.6" cy="374.2" r="4.4" fill="url(#g_navy)"/><circle cx="355" cy="372.5" r="4.4" fill="url(#g_navy)"/><circle cx="371.4" cy="369" r="4.4" fill="url(#g_navy)"/><circle cx="387.8" cy="364.7" r="4.4" fill="url(#g_navy)"/><circle cx="404.3" cy="359.8" r="4.4" fill="url(#g_navy)"/><circle cx="420.7" cy="352" r="4.4" fill="url(#g_navy)"/><circle cx="420.7" cy="355" r="4.4" fill="url(#g_navy)"/><circle cx="427.3" cy="349.5" r="4.4" fill="url(#g_navy)"/><circle cx="433.8" cy="346.7" r="4.4" fill="url(#g_navy)"/><circle cx="440.4" cy="344.2" r="4.4" fill="url(#g_navy)"/><circle cx="447" cy="337.8" r="4.4" fill="url(#g_navy)"/><circle cx="453.5" cy="334.8" r="4.4" fill="url(#g_navy)"/><circle cx="460.1" cy="339" r="4.4" fill="url(#g_navy)"/><circle cx="466.7" cy="363" r="4.4" fill="url(#g_navy)"/><circle cx="473.3" cy="383" r="4.4" fill="url(#g_navy)"/><circle cx="479.8" cy="411" r="4.4" fill="url(#g_navy)"/><circle cx="480.5" cy="421.9" r="4.4" fill="url(#g_navy)"/><circle cx="481.1" cy="432.8" r="4.4" fill="url(#g_navy)"/><circle cx="481.8" cy="443.7" r="4.4" fill="url(#g_navy)"/><circle cx="482.5" cy="454.5" r="4.4" fill="url(#g_navy)"/><circle cx="483.1" cy="465.4" r="4.4" fill="url(#g_navy)"/><circle cx="483.8" cy="476.3" r="4.4" fill="url(#g_navy)"/><circle cx="484.4" cy="487.2" r="4.4" fill="url(#g_navy)"/><circle cx="485.1" cy="498.1" r="4.4" fill="url(#g_navy)"/><circle cx="485.2" cy="508" r="4.4" fill="url(#g_navy)"/><circle cx="485.3" cy="516.5" r="4.4" fill="url(#g_navy)"/><circle cx="485.4" cy="524.7" r="4.4" fill="url(#g_navy)"/><circle cx="485.5" cy="532.5" r="4.4" fill="url(#g_navy)"/><circle cx="485.6" cy="540.2" r="4.4" fill="url(#g_navy)"/><circle cx="485.6" cy="547.7" r="4.4" fill="url(#g_navy)"/><circle cx="485.7" cy="555.1" r="4.4" fill="url(#g_navy)"/><circle cx="485.8" cy="562.4" r="4.4" fill="url(#g_navy)"/><circle cx="485.9" cy="569.6" r="4.4" fill="url(#g_navy)"/><circle cx="486" cy="576.7" r="4.4" fill="url(#g_navy)"/><circle cx="486.1" cy="583.7" r="4.4" fill="url(#g_navy)"/><circle cx="486.2" cy="590.7" r="4.4" fill="url(#g_navy)"/><circle cx="486.3" cy="597.6" r="4.4" fill="url(#g_navy)"/><circle cx="486.4" cy="604.5" r="4.4" fill="url(#g_navy)"/><circle cx="486.5" cy="602.8" r="4.4" fill="url(#g_navy)"/><circle cx="486.6" cy="600.8" r="4.4" fill="url(#g_navy)"/><circle cx="486.7" cy="598.8" r="4.4" fill="url(#g_navy)"/><circle cx="486.8" cy="596.7" r="4.4" fill="url(#g_navy)"/><circle cx="486.9" cy="594.5" r="4.4" fill="url(#g_navy)"/><circle cx="487" cy="592.2" r="4.4" fill="url(#g_navy)"/><circle cx="487.1" cy="590" r="4.4" fill="url(#g_navy)"/><circle cx="487.2" cy="587.7" r="4.4" fill="url(#g_navy)"/><circle cx="487.2" cy="585.4" r="4.4" fill="url(#g_navy)"/><circle cx="487.3" cy="583" r="4.4" fill="url(#g_navy)"/><circle cx="487.4" cy="580.6" r="4.4" fill="url(#g_navy)"/><circle cx="487.5" cy="578.2" r="4.4" fill="url(#g_navy)"/><circle cx="487.6" cy="575.8" r="4.4" fill="url(#g_navy)"/><circle cx="487.7" cy="573.4" r="4.4" fill="url(#g_navy)"/><circle cx="488.4" cy="561.7" r="4.4" fill="url(#g_navy)"/><circle cx="489" cy="550" r="4.4" fill="url(#g_navy)"/><circle cx="489.7" cy="538.4" r="4.4" fill="url(#g_navy)"/><circle cx="490.3" cy="526.7" r="4.4" fill="url(#g_navy)"/><circle cx="491" cy="515" r="4.4" fill="url(#g_navy)"/><circle cx="491.7" cy="503.3" r="4.4" fill="url(#g_navy)"/><circle cx="492.3" cy="491.7" r="4.4" fill="url(#g_navy)"/><circle cx="493" cy="480" r="4.4" fill="url(#g_navy)"/><circle cx="499.5" cy="465.6" r="4.4" fill="url(#g_navy)"/><circle cx="506.1" cy="452.7" r="4.4" fill="url(#g_navy)"/><circle cx="512.7" cy="440.4" r="4.4" fill="url(#g_navy)"/><circle cx="519.2" cy="431.6" r="4.4" fill="url(#g_navy)"/><circle cx="525.8" cy="426.3" r="4.4" fill="url(#g_navy)"/><circle cx="532.4" cy="420.5" r="4.4" fill="url(#g_navy)"/><circle cx="539" cy="417" r="4.4" fill="url(#g_navy)"/><circle cx="545.5" cy="414" r="4.4" fill="url(#g_navy)"/><circle cx="552.1" cy="411.3" r="4.4" fill="url(#g_navy)"/><circle cx="552.1" cy="408.3" r="4.4" fill="url(#g_navy)"/><circle cx="568.5" cy="403.3" r="4.4" fill="url(#g_navy)"/><circle cx="585" cy="398.3" r="4.4" fill="url(#g_navy)"/><circle cx="601.4" cy="393.9" r="4.4" fill="url(#g_navy)"/><circle cx="617.8" cy="390.1" r="4.4" fill="url(#g_navy)"/><circle cx="634.2" cy="388.1" r="4.4" fill="url(#g_navy)"/><circle cx="650.6" cy="386.6" r="4.4" fill="url(#g_navy)"/><circle cx="667.1" cy="385.1" r="4.4" fill="url(#g_navy)"/><circle cx="683.5" cy="384.3" r="4.4" fill="url(#g_navy)"/><circle cx="699.9" cy="383" r="4.4" fill="url(#g_navy)"/><circle cx="716.4" cy="381.6" r="4.4" fill="url(#g_navy)"/><circle cx="732.8" cy="380.7" r="4.4" fill="url(#g_navy)"/><circle cx="749.2" cy="380" r="4.4" fill="url(#g_navy)"/><circle cx="765.6" cy="379.3" r="4.4" fill="url(#g_navy)"/><circle cx="782" cy="382.2" r="4.4" fill="url(#g_navy)"/><circle cx="798.5" cy="383.2" r="4.4" fill="url(#g_navy)"/><circle cx="814.9" cy="383.7" r="4.4" fill="url(#g_navy)"/><path d="M487.1 170V592" stroke="#008000" stroke-width="1.2"/><path d="M163.6 380L168.6 380M180 380.1L185.1 380.1M196.4 380.1L201.5 380.1M212.9 380.2L217.9 380.2M229.3 380.2L234.3 380.1M245.7 380.1L250.8 380M262.1 380L267.2 379.9M278.6 379.9L283.6 379.8M295 379.7L300 379.6M311.4 379.4L316.5 379.3M327.8 379.2L332.9 379.1M344.3 378.9L349.3 378.8M360.7 378.4L365.7 378.1M377.1 377.3L382.2 376.8M393.5 376L398.6 375.7M409.9 374.8L415 374.3M463.2 339.2L463.6 338.5M469.8 328.9L470.1 328.5M485.2 243.4L485.2 241.1M487.9 230.9L488.2 240.3M488.6 251.7L488.8 261M489.2 272.4L489.5 281.7M489.9 293.1L490.2 302.4M490.5 313.8L490.8 323.1M491.2 334.5L491.5 343.9M491.8 355.3L492.1 364.6M492.5 376L492.8 385.3M557.7 384.6L562.9 383.8M574.2 382.7L579.3 382.6M590.6 382.2L595.7 382.1M607.1 382L612.1 382.2M623.5 382.3L628.5 382.4M639.9 382.4L645 382.5M656.3 382.5L661.4 382.6M672.8 382.6L677.8 382.7M689.2 382.7L694.2 382.7M705.6 382.7L710.6 382.7M722.1 382.7L727.1 382.7M738.5 382.7L743.5 382.7M754.9 382.7L759.9 382.7M771.3 382.7L776.3 382.7M787.8 382.7L792.8 382.7M804.2 382.7L809.2 382.7" stroke="#008000" stroke-width="1.2" fill="none"/><path d="M163.6 381.5L168.6 381.5M180 381.5L185.1 381.5M196.4 381.6L201.5 381.6M212.9 381.6L217.9 381.6M229.3 381.6L234.3 381.6M245.7 381.5L250.8 381.5M262.1 381.5L267.2 381.5M278.6 381.4L283.6 381.4M295 381.3L300 381.3M311.4 381.1L316.5 381M327.8 380.9L332.9 380.8M344.3 380.6L349.3 380.6M360.7 380.2L365.7 379.8M377.1 379.2L382.2 378.8M393.5 378.1L398.6 377.7M409.9 376.6L415 375.9M480.1 375L480.2 376M480.8 387.4L480.8 388.4M481.4 399.8L481.5 400.9M482.1 412.2L482.2 413.3M482.8 424.6L482.8 425.7M483.4 437.1L483.5 438.1M484.1 449.5L484.1 450.5M484.7 461.9L484.8 462.9M485.1 474.3L485.2 484M485.3 495.4L485.4 502.2M485.5 513.6L485.6 519.5M485.7 530.9L485.8 536.3M485.9 547.7L486 552.6M486.1 564L486.1 568.6M486.3 580L486.3 584.3M488 548.3L488.1 546.2M488.6 534.8L488.8 532.7M489.3 521.3L489.4 519.2M490 507.8L490.1 505.7M490.6 494.3L490.7 492.2M491.3 480.8L491.4 478.7M491.9 467.3L492 465.2M492.6 453.8L492.7 451.7M502.6 431.8L503.1 430.9M509.2 421.3L509.6 420.8M557.8 384.8L562.8 384.4M574.2 383.8L579.3 383.6M590.6 383.3L595.7 383.1M607.1 383.1L612.1 383.1M623.5 383.2L628.5 383.3M639.9 383.3L645 383.4M656.3 383.4L661.4 383.5M672.8 383.5L677.8 383.6M689.2 383.6L694.2 383.6M705.6 383.6L710.6 383.6M722.1 383.6L727.1 383.6M738.5 383.6L743.5 383.6M754.9 383.6L759.9 383.6M771.3 383.6L776.3 383.6M787.8 383.6L792.8 383.6M804.2 383.6L809.2 383.6" stroke="#008000" stroke-width="1.2" fill="none"/><circle cx="157.9" cy="380" r="4.4" fill="url(#g_dkgreen)"/><circle cx="174.3" cy="380.1" r="4.4" fill="url(#g_dkgreen)"/><circle cx="190.7" cy="380.1" r="4.4" fill="url(#g_dkgreen)"/><circle cx="207.2" cy="380.1" r="4.4" fill="url(#g_dkgreen)"/><circle cx="223.6" cy="380.2" r="4.4" fill="url(#g_dkgreen)"/><circle cx="240" cy="380.1" r="4.4" fill="url(#g_dkgreen)"/><circle cx="256.4" cy="380" r="4.4" fill="url(#g_dkgreen)"/><circle cx="272.9" cy="379.9" r="4.4" fill="url(#g_dkgreen)"/><circle cx="289.3" cy="379.8" r="4.4" fill="url(#g_dkgreen)"/><circle cx="305.7" cy="379.5" r="4.4" fill="url(#g_dkgreen)"/><circle cx="322.1" cy="379.2" r="4.4" fill="url(#g_dkgreen)"/><circle cx="338.6" cy="379" r="4.4" fill="url(#g_dkgreen)"/><circle cx="355" cy="378.7" r="4.4" fill="url(#g_dkgreen)"/><circle cx="371.4" cy="377.8" r="4.4" fill="url(#g_dkgreen)"/><circle cx="387.8" cy="376.3" r="4.4" fill="url(#g_dkgreen)"/><circle cx="404.3" cy="375.4" r="4.4" fill="url(#g_dkgreen)"/><circle cx="420.7" cy="373.8" r="4.4" fill="url(#g_dkgreen)"/><circle cx="420.7" cy="372.2" r="4.4" fill="url(#g_dkgreen)"/><circle cx="427.3" cy="370.4" r="4.4" fill="url(#g_dkgreen)"/><circle cx="433.8" cy="367.5" r="4.4" fill="url(#g_dkgreen)"/><circle cx="440.4" cy="364.6" r="4.4" fill="url(#g_dkgreen)"/><circle cx="447" cy="359.3" r="4.4" fill="url(#g_dkgreen)"/><circle cx="453.5" cy="351.7" r="4.4" fill="url(#g_dkgreen)"/><circle cx="460.1" cy="344" r="4.4" fill="url(#g_dkgreen)"/><circle cx="466.7" cy="333.7" r="4.4" fill="url(#g_dkgreen)"/><circle cx="473.3" cy="323.7" r="4.4" fill="url(#g_dkgreen)"/><circle cx="479.8" cy="313.8" r="4.4" fill="url(#g_dkgreen)"/><circle cx="480.5" cy="305.7" r="4.4" fill="url(#g_dkgreen)"/><circle cx="481.1" cy="297.6" r="4.4" fill="url(#g_dkgreen)"/><circle cx="481.8" cy="289.5" r="4.4" fill="url(#g_dkgreen)"/><circle cx="482.5" cy="281.4" r="4.4" fill="url(#g_dkgreen)"/><circle cx="483.1" cy="273.4" r="4.4" fill="url(#g_dkgreen)"/><circle cx="483.8" cy="265.3" r="4.4" fill="url(#g_dkgreen)"/><circle cx="484.4" cy="257.2" r="4.4" fill="url(#g_dkgreen)"/><circle cx="485.1" cy="249.1" r="4.4" fill="url(#g_dkgreen)"/><circle cx="485.3" cy="235.4" r="4.4" fill="url(#g_dkgreen)"/><circle cx="485.5" cy="223.5" r="4.4" fill="url(#g_dkgreen)"/><circle cx="485.6" cy="212.2" r="4.4" fill="url(#g_dkgreen)"/><circle cx="485.8" cy="201.3" r="4.4" fill="url(#g_dkgreen)"/><circle cx="486" cy="190.7" r="4.4" fill="url(#g_dkgreen)"/><circle cx="486.2" cy="180.2" r="4.4" fill="url(#g_dkgreen)"/><circle cx="486.4" cy="170" r="4.4" fill="url(#g_dkgreen)"/><circle cx="486.6" cy="176.5" r="4.4" fill="url(#g_dkgreen)"/><circle cx="486.8" cy="183.9" r="4.4" fill="url(#g_dkgreen)"/><circle cx="487" cy="191.8" r="4.4" fill="url(#g_dkgreen)"/><circle cx="487.2" cy="199.9" r="4.4" fill="url(#g_dkgreen)"/><circle cx="487.3" cy="208.2" r="4.4" fill="url(#g_dkgreen)"/><circle cx="487.5" cy="216.6" r="4.4" fill="url(#g_dkgreen)"/><circle cx="487.7" cy="225.2" r="4.4" fill="url(#g_dkgreen)"/><circle cx="488.4" cy="246" r="4.4" fill="url(#g_dkgreen)"/><circle cx="489" cy="266.7" r="4.4" fill="url(#g_dkgreen)"/><circle cx="489.7" cy="287.4" r="4.4" fill="url(#g_dkgreen)"/><circle cx="490.3" cy="308.1" r="4.4" fill="url(#g_dkgreen)"/><circle cx="491" cy="328.8" r="4.4" fill="url(#g_dkgreen)"/><circle cx="491.7" cy="349.6" r="4.4" fill="url(#g_dkgreen)"/><circle cx="492.3" cy="370.3" r="4.4" fill="url(#g_dkgreen)"/><circle cx="493" cy="391" r="4.4" fill="url(#g_dkgreen)"/><circle cx="499.5" cy="400" r="4.4" fill="url(#g_dkgreen)"/><circle cx="506.1" cy="405" r="4.4" fill="url(#g_dkgreen)"/><circle cx="512.7" cy="409.3" r="4.4" fill="url(#g_dkgreen)"/><circle cx="519.2" cy="404.5" r="4.4" fill="url(#g_dkgreen)"/><circle cx="525.8" cy="399" r="4.4" fill="url(#g_dkgreen)"/><circle cx="532.4" cy="393.6" r="4.4" fill="url(#g_dkgreen)"/><circle cx="539" cy="388.8" r="4.4" fill="url(#g_dkgreen)"/><circle cx="545.5" cy="386" r="4.4" fill="url(#g_dkgreen)"/><circle cx="552.1" cy="383.9" r="4.4" fill="url(#g_dkgreen)"/><circle cx="552.1" cy="385.4" r="4.4" fill="url(#g_dkgreen)"/><circle cx="568.5" cy="382.9" r="4.4" fill="url(#g_dkgreen)"/><circle cx="585" cy="382.4" r="4.4" fill="url(#g_dkgreen)"/><circle cx="601.4" cy="381.9" r="4.4" fill="url(#g_dkgreen)"/><circle cx="617.8" cy="382.3" r="4.4" fill="url(#g_dkgreen)"/><circle cx="634.2" cy="382.4" r="4.4" fill="url(#g_dkgreen)"/><circle cx="650.6" cy="382.5" r="4.4" fill="url(#g_dkgreen)"/><circle cx="667.1" cy="382.6" r="4.4" fill="url(#g_dkgreen)"/><circle cx="683.5" cy="382.7" r="4.4" fill="url(#g_dkgreen)"/><circle cx="699.9" cy="382.7" r="4.4" fill="url(#g_dkgreen)"/><circle cx="716.4" cy="382.7" r="4.4" fill="url(#g_dkgreen)"/><circle cx="732.8" cy="382.7" r="4.4" fill="url(#g_dkgreen)"/><circle cx="749.2" cy="382.7" r="4.4" fill="url(#g_dkgreen)"/><circle cx="765.6" cy="382.7" r="4.4" fill="url(#g_dkgreen)"/><circle cx="782" cy="382.7" r="4.4" fill="url(#g_dkgreen)"/><circle cx="798.5" cy="382.7" r="4.4" fill="url(#g_dkgreen)"/><circle cx="814.9" cy="382.7" r="4.4" fill="url(#g_dkgreen)"/><circle cx="157.9" cy="381.5" r="4.4" fill="url(#g_dkgreen)"/><circle cx="174.3" cy="381.5" r="4.4" fill="url(#g_dkgreen)"/><circle cx="190.7" cy="381.6" r="4.4" fill="url(#g_dkgreen)"/><circle cx="207.2" cy="381.6" r="4.4" fill="url(#g_dkgreen)"/><circle cx="223.6" cy="381.6" r="4.4" fill="url(#g_dkgreen)"/><circle cx="240" cy="381.6" r="4.4" fill="url(#g_dkgreen)"/><circle cx="256.4" cy="381.5" r="4.4" fill="url(#g_dkgreen)"/><circle cx="272.9" cy="381.4" r="4.4" fill="url(#g_dkgreen)"/><circle cx="289.3" cy="381.4" r="4.4" fill="url(#g_dkgreen)"/><circle cx="305.7" cy="381.2" r="4.4" fill="url(#g_dkgreen)"/><circle cx="322.1" cy="380.9" r="4.4" fill="url(#g_dkgreen)"/><circle cx="338.6" cy="380.7" r="4.4" fill="url(#g_dkgreen)"/><circle cx="355" cy="380.5" r="4.4" fill="url(#g_dkgreen)"/><circle cx="371.4" cy="379.5" r="4.4" fill="url(#g_dkgreen)"/><circle cx="387.8" cy="378.5" r="4.4" fill="url(#g_dkgreen)"/><circle cx="404.3" cy="377.2" r="4.4" fill="url(#g_dkgreen)"/><circle cx="420.7" cy="375.2" r="4.4" fill="url(#g_dkgreen)"/><circle cx="420.7" cy="376.8" r="4.4" fill="url(#g_dkgreen)"/><circle cx="427.3" cy="373" r="4.4" fill="url(#g_dkgreen)"/><circle cx="433.8" cy="369" r="4.4" fill="url(#g_dkgreen)"/><circle cx="440.4" cy="365.5" r="4.4" fill="url(#g_dkgreen)"/><circle cx="447" cy="360.5" r="4.4" fill="url(#g_dkgreen)"/><circle cx="453.5" cy="352.5" r="4.4" fill="url(#g_dkgreen)"/><circle cx="460.1" cy="351" r="4.4" fill="url(#g_dkgreen)"/><circle cx="466.7" cy="355.8" r="4.4" fill="url(#g_dkgreen)"/><circle cx="473.3" cy="361" r="4.4" fill="url(#g_dkgreen)"/><circle cx="479.8" cy="369.3" r="4.4" fill="url(#g_dkgreen)"/><circle cx="480.5" cy="381.7" r="4.4" fill="url(#g_dkgreen)"/><circle cx="481.1" cy="394.1" r="4.4" fill="url(#g_dkgreen)"/><circle cx="481.8" cy="406.5" r="4.4" fill="url(#g_dkgreen)"/><circle cx="482.5" cy="419" r="4.4" fill="url(#g_dkgreen)"/><circle cx="483.1" cy="431.4" r="4.4" fill="url(#g_dkgreen)"/><circle cx="483.8" cy="443.8" r="4.4" fill="url(#g_dkgreen)"/><circle cx="484.4" cy="456.2" r="4.4" fill="url(#g_dkgreen)"/><circle cx="485.1" cy="468.6" r="4.4" fill="url(#g_dkgreen)"/><circle cx="485.3" cy="489.7" r="4.4" fill="url(#g_dkgreen)"/><circle cx="485.5" cy="507.9" r="4.4" fill="url(#g_dkgreen)"/><circle cx="485.6" cy="525.2" r="4.4" fill="url(#g_dkgreen)"/><circle cx="485.8" cy="542" r="4.4" fill="url(#g_dkgreen)"/><circle cx="486" cy="558.3" r="4.4" fill="url(#g_dkgreen)"/><circle cx="486.2" cy="574.3" r="4.4" fill="url(#g_dkgreen)"/><circle cx="486.4" cy="590" r="4.4" fill="url(#g_dkgreen)"/><circle cx="486.6" cy="585.8" r="4.4" fill="url(#g_dkgreen)"/><circle cx="486.8" cy="580.9" r="4.4" fill="url(#g_dkgreen)"/><circle cx="487" cy="575.8" r="4.4" fill="url(#g_dkgreen)"/><circle cx="487.2" cy="570.5" r="4.4" fill="url(#g_dkgreen)"/><circle cx="487.3" cy="565.1" r="4.4" fill="url(#g_dkgreen)"/><circle cx="487.5" cy="559.6" r="4.4" fill="url(#g_dkgreen)"/><circle cx="487.7" cy="554" r="4.4" fill="url(#g_dkgreen)"/><circle cx="488.4" cy="540.5" r="4.4" fill="url(#g_dkgreen)"/><circle cx="489" cy="527" r="4.4" fill="url(#g_dkgreen)"/><circle cx="489.7" cy="513.5" r="4.4" fill="url(#g_dkgreen)"/><circle cx="490.3" cy="500" r="4.4" fill="url(#g_dkgreen)"/><circle cx="491" cy="486.5" r="4.4" fill="url(#g_dkgreen)"/><circle cx="491.7" cy="473" r="4.4" fill="url(#g_dkgreen)"/><circle cx="492.3" cy="459.5" r="4.4" fill="url(#g_dkgreen)"/><circle cx="493" cy="446" r="4.4" fill="url(#g_dkgreen)"/><circle cx="499.5" cy="436.6" r="4.4" fill="url(#g_dkgreen)"/><circle cx="506.1" cy="426.1" r="4.4" fill="url(#g_dkgreen)"/><circle cx="512.7" cy="416" r="4.4" fill="url(#g_dkgreen)"/><circle cx="519.2" cy="408" r="4.4" fill="url(#g_dkgreen)"/><circle cx="525.8" cy="401" r="4.4" fill="url(#g_dkgreen)"/><circle cx="532.4" cy="395.5" r="4.4" fill="url(#g_dkgreen)"/><circle cx="539" cy="390.5" r="4.4" fill="url(#g_dkgreen)"/><circle cx="545.5" cy="387.5" r="4.4" fill="url(#g_dkgreen)"/><circle cx="552.1" cy="386.8" r="4.4" fill="url(#g_dkgreen)"/><circle cx="552.1" cy="385.2" r="4.4" fill="url(#g_dkgreen)"/><circle cx="568.5" cy="384" r="4.4" fill="url(#g_dkgreen)"/><circle cx="585" cy="383.4" r="4.4" fill="url(#g_dkgreen)"/><circle cx="601.4" cy="383" r="4.4" fill="url(#g_dkgreen)"/><circle cx="617.8" cy="383.2" r="4.4" fill="url(#g_dkgreen)"/><circle cx="634.2" cy="383.3" r="4.4" fill="url(#g_dkgreen)"/><circle cx="650.6" cy="383.4" r="4.4" fill="url(#g_dkgreen)"/><circle cx="667.1" cy="383.5" r="4.4" fill="url(#g_dkgreen)"/><circle cx="683.5" cy="383.6" r="4.4" fill="url(#g_dkgreen)"/><circle cx="699.9" cy="383.6" r="4.4" fill="url(#g_dkgreen)"/><circle cx="716.4" cy="383.6" r="4.4" fill="url(#g_dkgreen)"/><circle cx="732.8" cy="383.6" r="4.4" fill="url(#g_dkgreen)"/><circle cx="749.2" cy="383.6" r="4.4" fill="url(#g_dkgreen)"/><circle cx="765.6" cy="383.6" r="4.4" fill="url(#g_dkgreen)"/><circle cx="782" cy="383.6" r="4.4" fill="url(#g_dkgreen)"/><circle cx="798.5" cy="383.6" r="4.4" fill="url(#g_dkgreen)"/><circle cx="814.9" cy="383.6" r="4.4" fill="url(#g_dkgreen)"/><path d="M93.5 81.4V678.5H881.2V344.5" stroke="#000" stroke-width="2.2" fill="none" stroke-linejoin="miter"/><path d="M92.4 82.5H628" stroke="#000" stroke-width="2.2" fill="none"/><path d="M93.5 678.5v9.5M159.1 678.5v6M224.8 678.5v9.5M290.4 678.5v6M356.1 678.5v9.5M421.7 678.5v6M487.4 678.5v9.5M553 678.5v6M618.6 678.5v9.5M684.3 678.5v6M749.9 678.5v9.5M815.6 678.5v6M881.2 678.5v9.5" stroke="#000" stroke-width="2" fill="none"/><text class="r" x="92.3" y="709.5" font-size="22" font-weight="normal" font-style="normal" fill="#000" text-anchor="middle" style="font-family:'Liberation Sans',Arial,Helvetica,sans-serif">-6</text><text class="r" x="223.6" y="709.5" font-size="22" font-weight="normal" font-style="normal" fill="#000" text-anchor="middle" style="font-family:'Liberation Sans',Arial,Helvetica,sans-serif">-4</text><text class="r" x="354.9" y="709.5" font-size="22" font-weight="normal" font-style="normal" fill="#000" text-anchor="middle" style="font-family:'Liberation Sans',Arial,Helvetica,sans-serif">-2</text><text class="r" x="487.4" y="709.5" font-size="22" font-weight="normal" font-style="normal" fill="#000" text-anchor="middle" style="font-family:'Liberation Sans',Arial,Helvetica,sans-serif">0</text><text class="r" x="618.6" y="709.5" font-size="22" font-weight="normal" font-style="normal" fill="#000" text-anchor="middle" style="font-family:'Liberation Sans',Arial,Helvetica,sans-serif">2</text><text class="r" x="749.9" y="709.5" font-size="22" font-weight="normal" font-style="normal" fill="#000" text-anchor="middle" style="font-family:'Liberation Sans',Arial,Helvetica,sans-serif">4</text><text class="r" x="881.2" y="709.5" font-size="22" font-weight="normal" font-style="normal" fill="#000" text-anchor="middle" style="font-family:'Liberation Sans',Arial,Helvetica,sans-serif">6</text><text x="439.5" y="743.1" font-size="33" font-weight="bold" style="font-family:'Liberation Sans',Arial,Helvetica,sans-serif"><tspan font-style="italic">µ</tspan><tspan font-style="italic" font-size="19" dy="11.2">0</tspan><tspan font-style="italic" dy="-11.2">H</tspan> (T)</text><text transform="translate(77.4 473.5) rotate(-90)" font-size="33" font-weight="bold" style="font-family:'Liberation Sans',Arial,Helvetica,sans-serif"><tspan font-style="italic">M</tspan> (arb. units)</text><text x="15" y="119.6" font-size="58" font-weight="bold" font-style="normal" fill="#000" text-anchor="start" style="font-family:'Liberation Sans',Arial,Helvetica,sans-serif">(a)</text><path d="M105.7 420.5H169.2" stroke="#ff0000" stroke-width="1.3"/><circle cx="137.5" cy="420.5" r="4.6" fill="url(#g_red)"/><text class="r" x="178.3" y="430.2" font-size="27" font-weight="normal" font-style="normal" fill="#000" text-anchor="start" style="font-family:'Liberation Sans',Arial,Helvetica,sans-serif">10 K</text><path d="M105.7 459.8H169.2" stroke="#55ff55" stroke-width="1.3"/><circle cx="137.5" cy="459.8" r="4.6" fill="url(#g_green)"/><text class="r" x="178.3" y="469.5" font-size="27" font-weight="normal" font-style="normal" fill="#000" text-anchor="start" style="font-family:'Liberation Sans',Arial,Helvetica,sans-serif">20 K</text><path d="M105.7 498.1H169.2" stroke="#4848ff" stroke-width="1.3"/><circle cx="137.5" cy="498.1" r="4.6" fill="url(#g_blue)"/><text class="r" x="178.3" y="507.8" font-size="27" font-weight="normal" font-style="normal" fill="#000" text-anchor="start" style="font-family:'Liberation Sans',Arial,Helvetica,sans-serif">30 K</text><path d="M105.7 537.2H169.2" stroke="#00ffff" stroke-width="1.3"/><circle cx="137.5" cy="537.2" r="4.6" fill="url(#g_cyan)"/><text class="r" x="178.3" y="546.9" font-size="27" font-weight="normal" font-style="normal" fill="#000" text-anchor="start" style="font-family:'Liberation Sans',Arial,Helvetica,sans-serif">40 K</text><path d="M105.7 578H169.2" stroke="#ff00ff" stroke-width="1.3"/><circle cx="137.5" cy="578" r="4.6" fill="url(#g_magenta)"/><text class="r" x="178.3" y="587.7" font-size="27" font-weight="normal" font-style="normal" fill="#000" text-anchor="start" style="font-family:'Liberation Sans',Arial,Helvetica,sans-serif">50 K</text><path d="M105.7 615.6H169.2" stroke="#20208c" stroke-width="1.3"/><circle cx="137.5" cy="615.6" r="4.6" fill="url(#g_navy)"/><text class="r" x="178.3" y="625.3" font-size="27" font-weight="normal" font-style="normal" fill="#000" text-anchor="start" style="font-family:'Liberation Sans',Arial,Helvetica,sans-serif">60 K</text><path d="M105.7 652.9H169.2" stroke="#55a555" stroke-width="1.3"/><circle cx="137.5" cy="652.9" r="4.6" fill="url(#g_dkgreen)"/><text class="r" x="178.3" y="662.6" font-size="27" font-weight="normal" font-style="normal" fill="#000" text-anchor="start" style="font-family:'Liberation Sans',Arial,Helvetica,sans-serif">70 K</text><rect x="432.5" y="126.5" width="88.8" height="256.7" fill="none" stroke="#000" stroke-width="1.2"/><g filter="url(#blur1)"><path d="M546.8 582.4L801.5 582.4L763.2 619.5L511.5 619.5Z" fill="#6b6b6b"/><path d="M511.5 619.5H763.2V642H511.5Z" fill="#575757"/><path d="M511.5 642H763.2V660.5H511.5Z" fill="#d3cba6"/><path d="M763.2 619.5L802.2 582.4V608.8L763.2 642Z" fill="#505050"/><path d="M763.2 642L802.2 608.8V626.3L763.2 660.5Z" fill="#a59d78"/><path d="M511.5 660.5H763.2" stroke="#8a8468" stroke-width="1"/></g><g filter="url(#blur2)"><text x="522.5" y="638" font-size="14" font-weight="bold" font-style="normal" fill="#fff" text-anchor="start" style="font-family:'Liberation Sans',Arial,Helvetica,sans-serif">YBCO</text><text x="555.5" y="657.6" font-size="12.5" font-weight="bold" font-style="normal" fill="#f4f0dc" text-anchor="start" style="font-family:'Liberation Sans',Arial,Helvetica,sans-serif" textLength="143" lengthAdjust="spacingAndGlyphs">MgO substrate (100)</text><text x="563" y="568.8" font-size="25" font-style="italic" fill="#c8283c" style="font-family:'Liberation Serif','Times New Roman',serif">F<tspan font-size="14" font-style="normal" dy="4">L</tspan><tspan dy="-4">, v</tspan></text><text x="706.5" y="571.7" font-size="24.5" font-style="italic" font-weight="bold" fill="#222" style="font-family:'Liberation Serif','Times New Roman',serif">E,&#160;&#160;J</text><text x="768.5" y="542.4" font-size="21" font-weight="bold" fill="#222" textLength="108" lengthAdjust="spacingAndGlyphs" style="font-family:'Liberation Serif','Times New Roman',serif"><tspan font-style="italic">H</tspan><tspan fill="#999" font-weight="normal">||</tspan><tspan font-style="italic">c</tspan> − axis</text><path d="M698.8 604.3L735.9 604.3" stroke="#1a1a1a" stroke-width="2.2" fill="none"/><path d="M744.6 604.3L735.9 608.1L735.9 600.5Z" fill="#1a1a1a" stroke="#1a1a1a" stroke-width="1" stroke-linejoin="round"/><path d="M822.7 655.6L822.7 563" stroke="#111" stroke-width="2.2" fill="none"/><path d="M822.7 554.2L827.8 563L817.7 563Z" fill="#111" stroke="#111" stroke-width="1" stroke-linejoin="round"/><path d="M546 608L552.2 600.2" stroke="#e8202a" stroke-width="3" fill="none"/><path d="M556.5 594.8L555.1 602.6L549.2 597.9Z" fill="#e8202a" stroke="#e8202a" stroke-width="1.6" stroke-linejoin="round"/></g><rect x="627.9" y="4.7" width="397" height="297.8" fill="#fff"/><rect x="627.9" y="302.5" width="397" height="41.5" fill="#fff"/><path d="M521.3 126.5L627.9 4.7M521.3 383.2L627.9 302.5" stroke="#000" stroke-width="1.9" fill="none"/><clipPath id="ci"><rect x="627.9" y="4.7" width="381" height="297.8"/></clipPath><g clip-path="url(#ci)"><path d="M632.6 114.9L690.7 105.9M702.1 104L760.2 93.6M771.5 91.2L829.8 76.8M841 74L899.3 58.9" stroke="#ff0000" stroke-width="1.0" fill="none"/><path d="M632.6 117.3L690.7 108.3M702.1 106.4L760.2 96M771.5 93.6L829.8 79.2M841 76.3L899.3 61.2M928.9 67.1L929.6 68.1M935 78.3L937.3 83.7M941.2 94.6L945 108.2M947.7 119.5L952.4 142.5M954.5 153.9L959.6 186.3M961.1 197.8L965.1 237.2" stroke="#ff0000" stroke-width="1.0" fill="none"/><circle cx="626.9" cy="118.2" r="5.3" fill="url(#g_red)"/><circle cx="696.4" cy="107.4" r="5.3" fill="url(#g_red)"/><circle cx="765.9" cy="95" r="5.3" fill="url(#g_red)"/><circle cx="835.4" cy="77.8" r="5.3" fill="url(#g_red)"/><circle cx="904.9" cy="59.7" r="5.3" fill="url(#g_red)"/><circle cx="911.9" cy="55" r="5.3" fill="url(#g_red)"/><circle cx="918.8" cy="56.2" r="5.3" fill="url(#g_red)"/><circle cx="925.8" cy="62.2" r="5.3" fill="url(#g_red)"/><circle cx="932.7" cy="73" r="5.3" fill="url(#g_red)"/><circle cx="939.6" cy="89" r="5.3" fill="url(#g_red)"/><circle cx="946.6" cy="113.8" r="5.3" fill="url(#g_red)"/><circle cx="953.5" cy="148.2" r="5.3" fill="url(#g_red)"/><circle cx="960.5" cy="192" r="5.3" fill="url(#g_red)"/><circle cx="965.7" cy="243" r="5.3" fill="url(#g_red)"/><circle cx="966.2" cy="246.1" r="5.3" fill="url(#g_red)"/><circle cx="966.6" cy="249.1" r="5.3" fill="url(#g_red)"/><circle cx="967.1" cy="252.2" r="5.3" fill="url(#g_red)"/><circle cx="967.5" cy="255.2" r="5.3" fill="url(#g_red)"/><circle cx="968" cy="258.2" r="5.3" fill="url(#g_red)"/><circle cx="968.4" cy="261.3" r="5.3" fill="url(#g_red)"/><circle cx="968.9" cy="264.4" r="5.3" fill="url(#g_red)"/><circle cx="969.3" cy="267.4" r="5.3" fill="url(#g_red)"/><circle cx="969.8" cy="270.4" r="5.3" fill="url(#g_red)"/><circle cx="970.2" cy="273.5" r="5.3" fill="url(#g_red)"/><circle cx="970.7" cy="276.6" r="5.3" fill="url(#g_red)"/><circle cx="971.1" cy="279.6" r="5.3" fill="url(#g_red)"/><circle cx="971.6" cy="282.6" r="5.3" fill="url(#g_red)"/><circle cx="972" cy="285.7" r="5.3" fill="url(#g_red)"/><circle cx="972.5" cy="288.8" r="5.3" fill="url(#g_red)"/><circle cx="972.9" cy="291.8" r="5.3" fill="url(#g_red)"/><circle cx="973.4" cy="294.9" r="5.3" fill="url(#g_red)"/><circle cx="973.8" cy="297.9" r="5.3" fill="url(#g_red)"/><circle cx="974.3" cy="300.9" r="5.3" fill="url(#g_red)"/><circle cx="626.9" cy="115.8" r="5.3" fill="url(#g_red)"/><circle cx="696.4" cy="105" r="5.3" fill="url(#g_red)"/><circle cx="765.9" cy="92.6" r="5.3" fill="url(#g_red)"/><circle cx="835.4" cy="75.4" r="5.3" fill="url(#g_red)"/><circle cx="904.9" cy="57.5" r="5.3" fill="url(#g_red)"/><circle cx="904.9" cy="49.6" r="5.3" fill="url(#g_red)"/><circle cx="911.9" cy="45.3" r="5.3" fill="url(#g_red)"/><circle cx="918.8" cy="41.2" r="5.3" fill="url(#g_red)"/><circle cx="925.8" cy="37.6" r="5.3" fill="url(#g_red)"/><circle cx="932.7" cy="33.7" r="5.3" fill="url(#g_red)"/><circle cx="939.6" cy="30" r="5.3" fill="url(#g_red)"/><circle cx="946.6" cy="26.4" r="5.3" fill="url(#g_red)"/><circle cx="953.5" cy="23.2" r="5.3" fill="url(#g_red)"/><circle cx="960.5" cy="21.5" r="5.3" fill="url(#g_red)"/><circle cx="966.1" cy="29.5" r="5.3" fill="url(#g_red)"/><circle cx="968.8" cy="30.5" r="5.3" fill="url(#g_red)"/><circle cx="971.6" cy="31" r="5.3" fill="url(#g_red)"/><circle cx="974.4" cy="31.1" r="5.3" fill="url(#g_red)"/><circle cx="977.2" cy="30.8" r="5.3" fill="url(#g_red)"/><circle cx="980" cy="30" r="5.3" fill="url(#g_red)"/><circle cx="981.4" cy="22.5" r="5.3" fill="url(#g_red)"/><circle cx="988.3" cy="24.7" r="5.3" fill="url(#g_red)"/><circle cx="995.2" cy="27.9" r="5.3" fill="url(#g_red)"/><circle cx="1002.2" cy="31.8" r="5.3" fill="url(#g_red)"/><circle cx="1009.1" cy="35.4" r="5.3" fill="url(#g_red)"/><circle cx="1016.1" cy="40" r="5.3" fill="url(#g_red)"/><path d="M944.4 70.2L977.2 302.5" stroke="#000" stroke-width="2.1"/></g><path d="M954.5 151.3L627.9 209.6" stroke="#000" stroke-width="3" stroke-dasharray="11.5 11.8" fill="none"/><rect x="627.9" y="4.7" width="381" height="297.8" fill="none" stroke="#000" stroke-width="1.4"/><path d="M696.4 302.5v5.5M835.4 302.5v5.5M974.4 302.5v5.5M626.9 302.5v3.2M765.9 302.5v3.2M904.9 302.5v3.2M627.9 104h-5M627.9 203.3h-5" stroke="#000" stroke-width="1.3" fill="none"/><text class="r" x="696.1" y="328.9" font-size="22.3" font-weight="normal" font-style="normal" fill="#000" text-anchor="middle" style="font-family:'Liberation Sans',Arial,Helvetica,sans-serif">-0.4</text><text class="r" x="835.1" y="328.9" font-size="22.3" font-weight="normal" font-style="normal" fill="#000" text-anchor="middle" style="font-family:'Liberation Sans',Arial,Helvetica,sans-serif">-0.2</text><text class="r" x="974.4" y="328.9" font-size="22.3" font-weight="normal" font-style="normal" fill="#000" text-anchor="middle" style="font-family:'Liberation Sans',Arial,Helvetica,sans-serif">0.0</text><text x="788" y="357.5" font-size="27.5" font-weight="bold" style="font-family:'Liberation Sans',Arial,Helvetica,sans-serif"><tspan font-style="italic">µ</tspan><tspan font-size="17" dy="7">0</tspan><tspan font-style="italic" dy="-7">H</tspan> (T)</text><text transform="translate(616.3 151.6) rotate(-90)" font-size="35" font-weight="bold" font-style="italic" style="font-family:'Liberation Sans',Arial,Helvetica,sans-serif">M</text><text x="651" y="49.4" font-size="40.5" font-weight="bold" style="font-family:'Liberation Sans',Arial,Helvetica,sans-serif"><tspan font-style="italic">M</tspan><tspan font-size="23" dy="15">irr</tspan></text><text x="820" y="37.6" font-size="34.5" font-weight="bold" fill="#00ff00" style="font-family:'Liberation Sans',Arial,Helvetica,sans-serif"><tspan font-style="italic">H</tspan><tspan font-size="20" dy="12.2">P</tspan></text><text x="851.5" y="118" font-size="34.5" font-weight="bold" fill="#ff0000" style="font-family:'Liberation Sans',Arial,Helvetica,sans-serif"><tspan font-style="italic">H</tspan><tspan font-size="20" font-weight="normal" dy="12">c1</tspan></text><text x="718.5" y="252.7" font-size="34.5" font-weight="bold" style="font-family:'Liberation Sans',Arial,Helvetica,sans-serif"><tspan font-style="italic">M</tspan><tspan font-size="21" dy="11.8">rev</tspan></text><text x="869.5" y="244.1" font-size="34.5" font-weight="bold" style="font-family:'Liberation Sans',Arial,Helvetica,sans-serif"><tspan font-style="italic">M</tspan><tspan font-size="21" dy="11.8">rev</tspan></text><path d="M680.5 97L648.8 100.8" stroke="#000" stroke-width="3" fill="none"/><path d="M635.9 102.4L648.4 97.2L649.2 104.5Z" fill="#000" stroke="#000" stroke-width="1.6" stroke-linejoin="round"/><path d="M749.6 83.3L716.3 89.6" stroke="#000" stroke-width="3" fill="none"/><path d="M703.6 92L715.7 86L717 93.2Z" fill="#000" stroke="#000" stroke-width="1.6" stroke-linejoin="round"/><path d="M814.6 69.8L782.7 77.2" stroke="#000" stroke-width="3" fill="none"/><path d="M770.1 80.1L781.9 73.6L783.6 80.8Z" fill="#000" stroke="#000" stroke-width="1.6" stroke-linejoin="round"/><path d="M908 172.2L876.7 179.3" stroke="#000" stroke-width="3" fill="none"/><path d="M864.1 182.1L875.9 175.7L877.6 182.9Z" fill="#000" stroke="#000" stroke-width="1.6" stroke-linejoin="round"/><path d="M834 186L804.2 193.5" stroke="#000" stroke-width="3" fill="none"/><path d="M791.6 196.6L803.3 189.9L805.1 197Z" fill="#000" stroke="#000" stroke-width="1.6" stroke-linejoin="round"/><path d="M764.2 197.5L733.3 204.9" stroke="#000" stroke-width="3" fill="none"/><path d="M720.7 207.9L732.4 201.3L734.2 208.5Z" fill="#000" stroke="#000" stroke-width="1.6" stroke-linejoin="round"/><path d="M683.7 214.7L649.7 221.3" stroke="#000" stroke-width="3" fill="none"/><path d="M637 223.8L649 217.7L650.4 224.9Z" fill="#000" stroke="#000" stroke-width="1.6" stroke-linejoin="round"/><path d="M946.7 219L941.3 190.8" stroke="#000" stroke-width="3" fill="none"/><path d="M938.8 178.1L944.9 190.1L937.7 191.5Z" fill="#000" stroke="#000" stroke-width="1.6" stroke-linejoin="round"/><path d="M958.5 290.9L953.2 262.7" stroke="#000" stroke-width="3" fill="none"/><path d="M950.8 250L956.8 262.1L949.6 263.4Z" fill="#000" stroke="#000" stroke-width="1.6" stroke-linejoin="round"/><path d="M874.6 35.1L883.9 39.6" stroke="#00ff00" stroke-width="3" fill="none"/><path d="M896 45.6L882.2 43L885.5 36.3Z" fill="#00ff00" stroke="#00ff00" stroke-width="1.2" stroke-linejoin="round"/><path d="M914.6 126.8L929.8 134.8" stroke="#ff0000" stroke-width="3" fill="none"/><path d="M941.3 140.9L928 138.1L931.5 131.5Z" fill="#ff0000" stroke="#ff0000" stroke-width="1.2" stroke-linejoin="round"/></g><g id="panel-b"><rect x="166.8" y="819.5" width="345.8" height="686.9" fill="url(#h_gray)"/><rect x="512.6" y="819.5" width="134.2" height="686.9" fill="url(#h_green)"/><rect x="646.8" y="819.5" width="108.2" height="686.9" fill="url(#h_cyan)"/><rect x="755" y="819.5" width="266.8" height="686.9" fill="url(#h_pink)"/><path d="M512.6 819.5V1506.4" stroke="#fff" stroke-opacity="0.8" stroke-width="1.2"/><path d="M646.8 819.5V1506.4" stroke="#fff" stroke-opacity="0.8" stroke-width="1.2"/><path d="M755 819.5V1506.4" stroke="#fff" stroke-opacity="0.8" stroke-width="1.2"/><rect x="176.2" y="828.3" width="361.3" height="59.9" fill="#fff" stroke="#000" stroke-width="1.3"/><path d="M199 856.3H287" stroke="#2222ff" stroke-width="1.1"/><circle cx="242.4" cy="856.3" r="8.4" fill="url(#gb_blue)"/><text class="r" x="298.5" y="869.8" font-size="39" style="font-family:'Liberation Sans',Arial,Helvetica,sans-serif"><tspan font-style="italic">H</tspan><tspan font-size="23.5" dy="13.4">ext</tspan><tspan dy="-13.4"> = 10 kOe</tspan></text><rect x="317.8" y="909" width="45.8" height="59.6" fill="#fff"/><rect x="363.4" y="947.1" width="28.4" height="36.3" fill="#fff"/><rect x="527.9" y="910.2" width="44.6" height="58.3" fill="#fff"/><rect x="572.3" y="948.3" width="44.9" height="35.5" fill="#fff"/><rect x="818.2" y="1382.9" width="148.8" height="50.9" fill="#fff"/><rect x="843.2" y="1439.1" width="99.3" height="51.1" fill="#fff"/><path d="M153 899.8H756" stroke="#000" stroke-width="3.5"/><clipPath id="cb"><rect x="166.8" y="819.5" width="855" height="686.9"/></clipPath><path d="M300.5 1513L742.6 818.9" stroke="#000" stroke-width="3.7" stroke-dasharray="15.5 17.5" stroke-dashoffset="-3" clip-path="url(#cb)" fill="none"/><clipPath id="cb2"><rect x="166.8" y="819.5" width="855.5" height="686.9"/></clipPath><g clip-path="url(#cb2)"><path d="M269.7 1403.8L273.2 1402.7M292.6 1395.7L297.5 1393.5M316.3 1385L321.5 1382.4M339.4 1372.2L345.5 1368.3M362.6 1356.8L369.5 1352.2M386 1339.9L393.8 1333.6M408.8 1319.5L418.2 1309.4M431.7 1293.8L442.5 1280.8M455.2 1264.6L466.7 1249.1M478.4 1232.2L490.7 1213.1M501.5 1195.6L515 1173.3M525.7 1155.7L538.9 1134.1M549.7 1116.5L562.7 1095.3M573.7 1077.9L586.6 1058.1M598.1 1041L610.5 1023.1M622.6 1006.3L633.4 991.8M646.6 975.9L656.8 964.7M671.3 950.1L680.3 941.8M696.3 929L702.3 924.9M719.6 913.8L728.4 908.4M747.3 900.9L749.5 900.4M769.9 899.1L773.5 899.5M794.1 900.5L797.7 900.5M818.3 900.6L821.9 900.6M842.5 900.6L845.8 900.6M866.4 900.6L869.5 900.6M890.1 900.6L893.4 900.6M914 900.6L917.3 900.6M937.9 900.6L940.4 900.6M961 900.6L965.1 900.6M985.7 900.6L986.8 900.6" stroke="#0000ff" stroke-width="1.1" fill="none"/><path d="M269.1 1219.7L272.8 1219.9M293.3 1221.7L296.8 1222M317.2 1224.6L320.6 1225.2M339.8 1231.6L345.1 1234.5M363.6 1243.4L368.5 1245.5M388.2 1250.6L391.6 1250.9M411.3 1247.9L415.7 1246M433.7 1236.1L440.5 1231.5M458.3 1221.2L463.6 1218.5M480.5 1207.1L488.6 1199.6M502.4 1184.5L514.2 1168.7M525.7 1151.7L539.2 1129.1M549.9 1111.5L563.1 1089.8M574.1 1072.4L587 1052.6M598.5 1035.6L611 1017.6M622.9 1000.8L634.2 985.2M647.3 969.4L657.4 959M672.1 944.6L680.7 936.7M697.1 924.3L703 920.7M721 910.6L728.2 907M747.5 900.3L752.1 899.4M772.5 898.2L776.3 898.6M796.9 899.6L800.5 899.6M821.1 899.8L824.7 899.8M845.3 899.8L848.6 899.8M869.2 899.8L872.3 899.8M892.9 899.8L896.2 899.8M916.8 899.8L920.1 899.8M940.7 899.8L943.2 899.8M963.8 899.8L967.9 899.8M988.5 899.8L989.6 899.8" stroke="#0000ff" stroke-width="1.1" fill="none"/><circle cx="227.3" cy="1414.4" r="8.8" fill="url(#gb_blue)"/><circle cx="235.2" cy="1413.4" r="8.8" fill="url(#gb_blue)"/><circle cx="243" cy="1411.9" r="8.8" fill="url(#gb_blue)"/><circle cx="251" cy="1409.6" r="8.8" fill="url(#gb_blue)"/><circle cx="259.8" cy="1406.8" r="8.8" fill="url(#gb_blue)"/><circle cx="283.1" cy="1399.7" r="8.8" fill="url(#gb_blue)"/><circle cx="307" cy="1389.5" r="8.8" fill="url(#gb_blue)"/><circle cx="330.8" cy="1377.9" r="8.8" fill="url(#gb_blue)"/><circle cx="354.1" cy="1362.6" r="8.8" fill="url(#gb_blue)"/><circle cx="378" cy="1346.4" r="8.8" fill="url(#gb_blue)"/><circle cx="401.8" cy="1327.1" r="8.8" fill="url(#gb_blue)"/><circle cx="425.2" cy="1301.8" r="8.8" fill="url(#gb_blue)"/><circle cx="449" cy="1272.8" r="8.8" fill="url(#gb_blue)"/><circle cx="472.9" cy="1240.9" r="8.8" fill="url(#gb_blue)"/><circle cx="496.2" cy="1204.4" r="8.8" fill="url(#gb_blue)"/><circle cx="520.3" cy="1164.5" r="8.8" fill="url(#gb_blue)"/><circle cx="544.3" cy="1125.3" r="8.8" fill="url(#gb_blue)"/><circle cx="568.1" cy="1086.5" r="8.8" fill="url(#gb_blue)"/><circle cx="592.2" cy="1049.5" r="8.8" fill="url(#gb_blue)"/><circle cx="616.4" cy="1014.6" r="8.8" fill="url(#gb_blue)"/><circle cx="639.6" cy="983.5" r="8.8" fill="url(#gb_blue)"/><circle cx="663.8" cy="957.1" r="8.8" fill="url(#gb_blue)"/><circle cx="687.8" cy="934.8" r="8.8" fill="url(#gb_blue)"/><circle cx="710.8" cy="919.1" r="8.8" fill="url(#gb_blue)"/><circle cx="737.2" cy="903.1" r="8.8" fill="url(#gb_blue)"/><circle cx="759.6" cy="898.2" r="8.8" fill="url(#gb_blue)"/><circle cx="783.8" cy="900.4" r="8.8" fill="url(#gb_blue)"/><circle cx="808" cy="900.6" r="8.8" fill="url(#gb_blue)"/><circle cx="832.2" cy="900.6" r="8.8" fill="url(#gb_blue)"/><circle cx="856.1" cy="900.6" r="8.8" fill="url(#gb_blue)"/><circle cx="879.8" cy="900.6" r="8.8" fill="url(#gb_blue)"/><circle cx="903.7" cy="900.6" r="8.8" fill="url(#gb_blue)"/><circle cx="927.6" cy="900.6" r="8.8" fill="url(#gb_blue)"/><circle cx="950.7" cy="900.6" r="8.8" fill="url(#gb_blue)"/><circle cx="975.4" cy="900.6" r="8.8" fill="url(#gb_blue)"/><circle cx="997.1" cy="900.6" r="8.8" fill="url(#gb_blue)"/><circle cx="1004.1" cy="900.6" r="8.8" fill="url(#gb_blue)"/><circle cx="1018" cy="900.6" r="8.8" fill="url(#gb_blue)"/><circle cx="225.8" cy="1215.5" r="8.8" fill="url(#gb_blue)"/><circle cx="233.4" cy="1215.5" r="8.8" fill="url(#gb_blue)"/><circle cx="241" cy="1215.6" r="8.8" fill="url(#gb_blue)"/><circle cx="248.6" cy="1216.5" r="8.8" fill="url(#gb_blue)"/><circle cx="258.8" cy="1219" r="8.8" fill="url(#gb_blue)"/><circle cx="283.1" cy="1220.6" r="8.8" fill="url(#gb_blue)"/><circle cx="307" cy="1223.1" r="8.8" fill="url(#gb_blue)"/><circle cx="330.8" cy="1226.7" r="8.8" fill="url(#gb_blue)"/><circle cx="354.1" cy="1239.4" r="8.8" fill="url(#gb_blue)"/><circle cx="378" cy="1249.5" r="8.8" fill="url(#gb_blue)"/><circle cx="401.8" cy="1252" r="8.8" fill="url(#gb_blue)"/><circle cx="425.2" cy="1241.9" r="8.8" fill="url(#gb_blue)"/><circle cx="449" cy="1225.7" r="8.8" fill="url(#gb_blue)"/><circle cx="472.9" cy="1214" r="8.8" fill="url(#gb_blue)"/><circle cx="496.2" cy="1192.7" r="8.8" fill="url(#gb_blue)"/><circle cx="520.4" cy="1160.5" r="8.8" fill="url(#gb_blue)"/><circle cx="544.5" cy="1120.3" r="8.8" fill="url(#gb_blue)"/><circle cx="568.5" cy="1081" r="8.8" fill="url(#gb_blue)"/><circle cx="592.6" cy="1044" r="8.8" fill="url(#gb_blue)"/><circle cx="616.9" cy="1009.2" r="8.8" fill="url(#gb_blue)"/><circle cx="640.2" cy="976.8" r="8.8" fill="url(#gb_blue)"/><circle cx="664.5" cy="951.6" r="8.8" fill="url(#gb_blue)"/><circle cx="688.3" cy="929.7" r="8.8" fill="url(#gb_blue)"/><circle cx="711.8" cy="915.3" r="8.8" fill="url(#gb_blue)"/><circle cx="737.4" cy="902.3" r="8.8" fill="url(#gb_blue)"/><circle cx="762.2" cy="897.4" r="8.8" fill="url(#gb_blue)"/><circle cx="786.6" cy="899.4" r="8.8" fill="url(#gb_blue)"/><circle cx="810.8" cy="899.8" r="8.8" fill="url(#gb_blue)"/><circle cx="835" cy="899.8" r="8.8" fill="url(#gb_blue)"/><circle cx="858.9" cy="899.8" r="8.8" fill="url(#gb_blue)"/><circle cx="882.6" cy="899.8" r="8.8" fill="url(#gb_blue)"/><circle cx="906.5" cy="899.8" r="8.8" fill="url(#gb_blue)"/><circle cx="930.4" cy="899.8" r="8.8" fill="url(#gb_blue)"/><circle cx="953.5" cy="899.8" r="8.8" fill="url(#gb_blue)"/><circle cx="978.2" cy="899.8" r="8.8" fill="url(#gb_blue)"/><circle cx="999.9" cy="899.8" r="8.8" fill="url(#gb_blue)"/><circle cx="1006.9" cy="899.8" r="8.8" fill="url(#gb_blue)"/><circle cx="1020.8" cy="899.8" r="8.8" fill="url(#gb_blue)"/></g><rect x="166.8" y="819.5" width="855" height="686.9" fill="none" stroke="#000" stroke-width="2.8"/><path d="M166.4 1506.4v14M244.1 1506.4v7.5M321.8 1506.4v14M399.4 1506.4v7.5M477.1 1506.4v14M554.8 1506.4v7.5M632.5 1506.4v14M710.2 1506.4v7.5M787.8 1506.4v14M865.5 1506.4v7.5M943.2 1506.4v14M1020.9 1506.4v7.5M166.8 1035.9h-7.3M166.8 1171.7h-13.8M166.8 1307.6h-7.3M166.8 1443.4h-13.8" stroke="#000" stroke-width="2.6" fill="none"/><text class="r" x="166.4" y="1553.2" font-size="27.8" font-weight="normal" font-style="normal" fill="#000" text-anchor="middle" style="font-family:'Liberation Sans',Arial,Helvetica,sans-serif">0</text><text class="r" x="321.8" y="1553.2" font-size="27.8" font-weight="normal" font-style="normal" fill="#000" text-anchor="middle" style="font-family:'Liberation Sans',Arial,Helvetica,sans-serif">20</text><text class="r" x="477.1" y="1553.2" font-size="27.8" font-weight="normal" font-style="normal" fill="#000" text-anchor="middle" style="font-family:'Liberation Sans',Arial,Helvetica,sans-serif">40</text><text class="r" x="632.5" y="1553.2" font-size="27.8" font-weight="normal" font-style="normal" fill="#000" text-anchor="middle" style="font-family:'Liberation Sans',Arial,Helvetica,sans-serif">60</text><text class="r" x="787.8" y="1553.2" font-size="27.8" font-weight="normal" font-style="normal" fill="#000" text-anchor="middle" style="font-family:'Liberation Sans',Arial,Helvetica,sans-serif">80</text><text class="r" x="943.2" y="1553.2" font-size="27.8" font-weight="normal" font-style="normal" fill="#000" text-anchor="middle" style="font-family:'Liberation Sans',Arial,Helvetica,sans-serif">100</text><text class="r" x="149.6" y="909.4" font-size="27.5" font-weight="normal" font-style="normal" fill="#000" text-anchor="end" style="font-family:'Liberation Sans',Arial,Helvetica,sans-serif">0</text><text class="r" x="149.6" y="1181.3" font-size="27.5" font-weight="normal" font-style="normal" fill="#000" text-anchor="end" style="font-family:'Liberation Sans',Arial,Helvetica,sans-serif">-1</text><text class="r" x="149.6" y="1453" font-size="27.5" font-weight="normal" font-style="normal" fill="#000" text-anchor="end" style="font-family:'Liberation Sans',Arial,Helvetica,sans-serif">-2</text><text x="524.5" y="1596.1" font-size="45" font-weight="bold" style="font-family:'Liberation Sans',Arial,Helvetica,sans-serif"><tspan font-style="italic">T</tspan> (K)</text><text transform="translate(102.3 1349) rotate(-90)" font-size="44.5" font-weight="bold" style="font-family:'Liberation Sans',Arial,Helvetica,sans-serif"><tspan font-style="italic">M</tspan> x 10<tspan font-size="29" dy="-22.6">4</tspan><tspan dy="22.6"> (emu/cm</tspan><tspan font-size="29" dy="-22.6">3</tspan><tspan dy="22.6">)</tspan></text><text x="36.5" y="873.2" font-size="60.5" font-weight="bold" font-style="normal" fill="#000" text-anchor="start" style="font-family:'Liberation Sans',Arial,Helvetica,sans-serif">(b)</text><text class="r" x="318.5" y="958" font-size="54" style="font-family:'Liberation Sans',Arial,Helvetica,sans-serif"><tspan font-style="italic">M</tspan><tspan font-size="31" dy="17.7">irr</tspan></text><text class="r" x="528.5" y="958.4" font-size="54" style="font-family:'Liberation Sans',Arial,Helvetica,sans-serif"><tspan font-style="italic">M</tspan><tspan font-size="31" dy="17.8">rev</tspan></text><text class="r" x="435" y="1064.5" font-size="49.5" style="font-family:'Liberation Sans',Arial,Helvetica,sans-serif"><tspan font-style="italic">T</tspan><tspan font-size="28.3" dy="16.3" dx="-3">irr</tspan></text><text class="r" x="565.5" y="861.5" font-size="44" style="font-family:'Liberation Sans',Arial,Helvetica,sans-serif"><tspan font-style="italic">T</tspan><tspan font-size="25.5" dy="15.7" dx="1">C2</tspan></text><text class="r" x="802.5" y="1028.5" font-size="43.5" style="font-family:'Liberation Sans',Arial,Helvetica,sans-serif"><tspan font-style="italic">T</tspan><tspan font-size="27.4" dy="16.7" dx="-1.5">C (Onset)</tspan></text><text x="228" y="1285.6" font-size="35" font-weight="bold" font-style="normal" fill="#000" text-anchor="start" style="font-family:'Liberation Sans',Arial,Helvetica,sans-serif">FC</text><text x="209.5" y="1482.8" font-size="35.6" font-weight="bold" font-style="normal" fill="#000" text-anchor="start" style="font-family:'Liberation Sans',Arial,Helvetica,sans-serif">ZFC</text><text class="r" transform="translate(493.4 1487.5) rotate(-90)" font-size="43.3" font-style="italic" style="font-family:'Liberation Sans',Arial,Helvetica,sans-serif">Vortex glass</text><text class="r" transform="translate(595.1 1486.5) rotate(-90)" font-size="42" font-style="italic" style="font-family:'Liberation Sans',Arial,Helvetica,sans-serif">Vortex Liquid</text><text class="r" transform="translate(718.3 1487) rotate(-90)" font-size="45.4" font-style="italic" style="font-family:'Liberation Sans',Arial,Helvetica,sans-serif" xml:space="preserve">Thermal  fluctuations</text><text class="r" x="894" y="1424.2" font-size="45" font-weight="normal" font-style="italic" fill="#000" text-anchor="middle" style="font-family:'Liberation Sans',Arial,Helvetica,sans-serif">Normal</text><text class="r" x="893" y="1479.2" font-size="45" font-weight="normal" font-style="italic" fill="#000" text-anchor="middle" style="font-family:'Liberation Sans',Arial,Helvetica,sans-serif">state</text><path d="M283 1247.5L239.3 1240.6" stroke="#000" stroke-width="4" fill="none"/><path d="M220.6 1237.7L240.2 1235.3L238.5 1246Z" fill="#000" stroke="#000" stroke-width="2.4" stroke-linejoin="round"/><path d="M225.4 1443.3L267 1432.3" stroke="#000" stroke-width="4" fill="none"/><path d="M285.4 1427.5L268.4 1437.6L265.6 1427.1Z" fill="#000" stroke="#000" stroke-width="2.4" stroke-linejoin="round"/><path d="M476.8 1100L493.8 1134.1" stroke="#000" stroke-width="4.2" fill="none"/><path d="M503.1 1153L488.5 1136.8L499.1 1131.5Z" fill="#000" stroke="#000" stroke-width="2.4" stroke-linejoin="round"/><path d="M642.1 858.2L668.7 881.1" stroke="#000" stroke-width="4.2" fill="none"/><path d="M684.7 894.7L664.9 885.6L672.6 876.6Z" fill="#000" stroke="#000" stroke-width="2.4" stroke-linejoin="round"/><path d="M800 980.7L777.6 944" stroke="#000" stroke-width="4.2" fill="none"/><path d="M766.9 926.5L782.4 941.1L772.7 947Z" fill="#000" stroke="#000" stroke-width="2.4" stroke-linejoin="round"/></g></svg></body></html>
